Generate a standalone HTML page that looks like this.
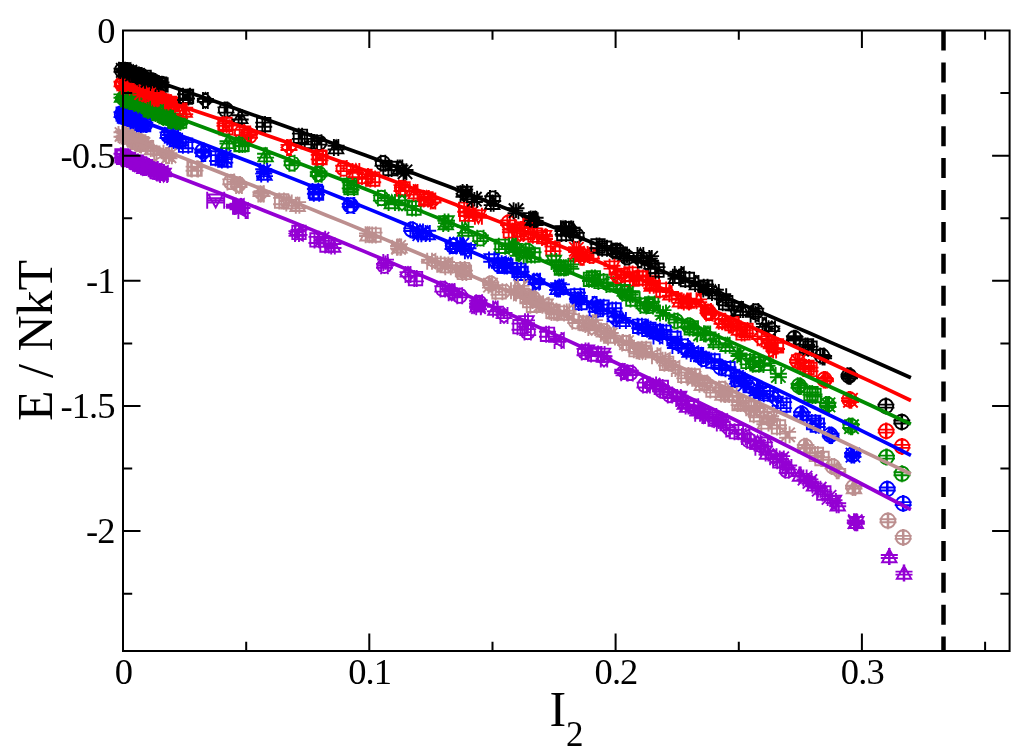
<!DOCTYPE html>
<html><head><meta charset="utf-8"><title>E / NkT vs I2</title>
<style>html,body{margin:0;padding:0;background:#fff}svg{display:block}</style></head>
<body>
<svg width="1024" height="755" viewBox="0 0 1024 755">
<rect width="1024" height="755" fill="#fff"/>
<path d="M128.6 159.4h2.7M128.6 150.9v17M131.4 150.9v17M130 157.8v3.2M121.5 157.8h17M121.5 161h17M122.8 159.4a7.2 7.2 0 1 0 14.4 0a7.2 7.2 0 1 0 -14.4 0M130.4 160.9h2.4M130.4 152.4v17M132.8 152.4v17M131.6 159.4v3M123.1 159.4h17M123.1 162.4h17M124.4 160.9a7.2 7.2 0 1 0 14.4 0a7.2 7.2 0 1 0 -14.4 0M131.1 161.8h4.1M131.1 153.3v17M135.3 153.3v17M133.2 160.5v2.5M124.7 160.5h17M124.7 163h17M126 161.8a7.2 7.2 0 1 0 14.4 0a7.2 7.2 0 1 0 -14.4 0M133 162.6h3.6M133 154.1v17M136.6 154.1v17M134.8 160.7v3.8M126.3 160.7h17M126.3 164.5h17M127.6 162.6a7.2 7.2 0 1 0 14.4 0a7.2 7.2 0 1 0 -14.4 0M142.9 166.6h6.1M142.9 158.1v17M149.1 158.1v17M146 164.3v4.5M137.5 164.3h17M137.5 168.9h17M138.8 166.6a7.2 7.2 0 1 0 14.4 0a7.2 7.2 0 1 0 -14.4 0M150.5 169.1h3.7M150.5 160.6v17M154.3 160.6v17M152.4 167.4v3.4M143.9 167.4h17M143.9 170.8h17M145.2 169.1a7.2 7.2 0 1 0 14.4 0a7.2 7.2 0 1 0 -14.4 0M381.1 265.8h6.8M381.1 257.3v17M387.9 257.3v17M384.5 263.9v3.8M376 263.9h17M376 267.7h17M377.3 265.8a7.2 7.2 0 1 0 14.4 0a7.2 7.2 0 1 0 -14.4 0M440.5 289h4.7M440.5 280.5v17M445.1 280.5v17M442.8 286.3v5.3M434.3 286.3h17M434.3 291.6h17M435.6 289a7.2 7.2 0 1 0 14.4 0a7.2 7.2 0 1 0 -14.4 0M457.2 295.7h5.1M457.2 287.2v17M462.2 287.2v17M459.7 294v3.4M451.2 294h17M451.2 297.4h17M452.5 295.7a7.2 7.2 0 1 0 14.4 0a7.2 7.2 0 1 0 -14.4 0M581.7 352.1h6.6M581.7 343.6v17M588.3 343.6v17M585 348.9v6.3M576.5 348.9h17M576.5 355.2h17M577.8 352.1a7.2 7.2 0 1 0 14.4 0a7.2 7.2 0 1 0 -14.4 0M627.8 372.9h5.1M627.8 364.4v17M632.8 364.4v17M630.3 370.8v4.2M621.8 370.8h17M621.8 375h17M623.1 372.9a7.2 7.2 0 1 0 14.4 0a7.2 7.2 0 1 0 -14.4 0M643 385h4M643 376.5v17M647 376.5v17M645 382.6v4.9M636.5 382.6h17M636.5 387.5h17M637.8 385a7.2 7.2 0 1 0 14.4 0a7.2 7.2 0 1 0 -14.4 0M660.2 390.4h3.7M660.2 381.9v17M663.8 381.9v17M662 389.2v2.6M653.5 389.2h17M653.5 391.7h17M654.8 390.4a7.2 7.2 0 1 0 14.4 0a7.2 7.2 0 1 0 -14.4 0M667.8 395h4.4M667.8 386.5v17M672.2 386.5v17M670 392v6M661.5 392h17M661.5 398h17M662.8 395a7.2 7.2 0 1 0 14.4 0a7.2 7.2 0 1 0 -14.4 0M709.7 416.6h6.5M709.7 408.1v17M716.3 408.1v17M713 414.5v4.2M704.5 414.5h17M704.5 418.7h17M705.8 416.6a7.2 7.2 0 1 0 14.4 0a7.2 7.2 0 1 0 -14.4 0M747.2 440.3h3.6M747.2 431.8v17M750.8 431.8v17M749 439.1v2.5M740.5 439.1h17M740.5 441.5h17M741.8 440.3a7.2 7.2 0 1 0 14.4 0a7.2 7.2 0 1 0 -14.4 0M761.5 444.4h6.3M761.5 435.9v17M767.8 435.9v17M764.6 442.4v4.1M756.1 442.4h17M756.1 446.5h17M757.4 444.4a7.2 7.2 0 1 0 14.4 0a7.2 7.2 0 1 0 -14.4 0M476.2 302.8h5.9M476.2 294.3v17M482.1 294.3v17M479.2 300.3v5M470.7 300.3h17M470.7 305.3h17M472 302.8a7.2 7.2 0 1 0 14.4 0a7.2 7.2 0 1 0 -14.4 0M524.5 332.1h6.4M524.5 323.6v17M530.9 323.6v17M527.7 329.1v6M519.2 329.1h17M519.2 335.1h17M520.5 332.1a7.2 7.2 0 1 0 14.4 0a7.2 7.2 0 1 0 -14.4 0M785.2 470.4h3.7M785.2 461.9v17M788.9 461.9v17M787.1 467.8v5.1M778.6 467.8h17M778.6 472.9h17M779.9 470.4a7.2 7.2 0 1 0 14.4 0a7.2 7.2 0 1 0 -14.4 0" fill="none" stroke="#9400d3" stroke-width="1.9"/>
<path d="M128.7 137.8h3.4M128.7 129.3v17M132.1 129.3v17M130.4 134.8v6M121.9 134.8h17M121.9 140.9h17M123.2 137.8a7.2 7.2 0 1 0 14.4 0a7.2 7.2 0 1 0 -14.4 0M131.5 140.1h3.3M131.5 131.6v17M134.9 131.6v17M133.2 138.7v2.8M124.7 138.7h17M124.7 141.5h17M126 140.1a7.2 7.2 0 1 0 14.4 0a7.2 7.2 0 1 0 -14.4 0M227.4 181.9h6.8M227.4 173.4v17M234.2 173.4v17M230.8 179.4v5M222.3 179.4h17M222.3 184.3h17M223.6 181.9a7.2 7.2 0 1 0 14.4 0a7.2 7.2 0 1 0 -14.4 0M236.5 184.4h3.6M236.5 175.9v17M240.1 175.9v17M238.3 182v4.9M229.8 182h17M229.8 186.9h17M231.1 184.4a7.2 7.2 0 1 0 14.4 0a7.2 7.2 0 1 0 -14.4 0M489.4 283.7h2.6M489.4 275.2v17M492 275.2v17M490.7 282.4v2.6M482.2 282.4h17M482.2 285h17M483.5 283.7a7.2 7.2 0 1 0 14.4 0a7.2 7.2 0 1 0 -14.4 0M531.1 298.3h3.7M531.1 289.8v17M534.9 289.8v17M533 296.4v3.8M524.5 296.4h17M524.5 300.2h17M525.8 298.3a7.2 7.2 0 1 0 14.4 0a7.2 7.2 0 1 0 -14.4 0M572.3 321.3h6.8M572.3 312.8v17M579.1 312.8v17M575.7 319.6v3.4M567.2 319.6h17M567.2 323h17M568.5 321.3a7.2 7.2 0 1 0 14.4 0a7.2 7.2 0 1 0 -14.4 0M601 331.1h6M601 322.6v17M607 322.6v17M604 328.1v6.1M595.5 328.1h17M595.5 334.2h17M596.8 331.1a7.2 7.2 0 1 0 14.4 0a7.2 7.2 0 1 0 -14.4 0M804.1 446.3h2.3M804.1 437.8v17M806.5 437.8v17M805.3 445v2.6M796.8 445h17M796.8 447.6h17M798.1 446.3a7.2 7.2 0 1 0 14.4 0a7.2 7.2 0 1 0 -14.4 0M831.6 466.6h2.8M831.6 458.1v17M834.4 458.1v17M833 464.8v3.6M824.5 464.8h17M824.5 468.4h17M825.8 466.6a7.2 7.2 0 1 0 14.4 0a7.2 7.2 0 1 0 -14.4 0M852.7 487h1.6M852.7 478.5v17M854.3 478.5v17M853.5 485.6v2.7M845 485.6h17M845 488.4h17M846.3 487a7.2 7.2 0 1 0 14.4 0a7.2 7.2 0 1 0 -14.4 0M887.7 520.7h0.6M887.7 512.2v17M888.3 512.2v17M888 519.2v3M879.5 519.2h17M879.5 522.2h17M880.8 520.7a7.2 7.2 0 1 0 14.4 0a7.2 7.2 0 1 0 -14.4 0M902.9 537.4h0.6M902.9 528.9v17M903.5 528.9v17M903.2 535.9v3M894.7 535.9h17M894.7 538.9h17M896 537.4a7.2 7.2 0 1 0 14.4 0a7.2 7.2 0 1 0 -14.4 0M622.1 343h6.8M622.1 334.5v17M629 334.5v17M625.6 341.1v4M617.1 341.1h17M617.1 345h17M618.4 343a7.2 7.2 0 1 0 14.4 0a7.2 7.2 0 1 0 -14.4 0M702.2 383h5.1M702.2 374.5v17M707.3 374.5v17M704.8 380.3v5.4M696.3 380.3h17M696.3 385.7h17M697.6 383a7.2 7.2 0 1 0 14.4 0a7.2 7.2 0 1 0 -14.4 0M718.9 389h6.4M718.9 380.5v17M725.3 380.5v17M722.1 387.5v2.9M713.6 387.5h17M713.6 390.4h17M714.9 389a7.2 7.2 0 1 0 14.4 0a7.2 7.2 0 1 0 -14.4 0M748.7 408.5h5.4M748.7 400v17M754 400v17M751.4 406.3v4.4M742.9 406.3h17M742.9 410.7h17M744.2 408.5a7.2 7.2 0 1 0 14.4 0a7.2 7.2 0 1 0 -14.4 0" fill="none" stroke="#bc8f8f" stroke-width="1.9"/>
<path d="M118.4 114.6h7.2M118.4 106.1v17M125.6 106.1v17M122 112.2v4.9M113.5 112.2h17M113.5 117.1h17M114.8 114.6a7.2 7.2 0 1 0 14.4 0a7.2 7.2 0 1 0 -14.4 0M122.4 116.6h6.3M122.4 108.1v17M128.8 108.1v17M125.6 114.8v3.4M117.1 114.8h17M117.1 118.3h17M118.4 116.6a7.2 7.2 0 1 0 14.4 0a7.2 7.2 0 1 0 -14.4 0M126.7 117h2.6M126.7 108.5v17M129.3 108.5v17M128 115.5v3M119.5 115.5h17M119.5 118.5h17M120.8 117a7.2 7.2 0 1 0 14.4 0a7.2 7.2 0 1 0 -14.4 0M129.5 118.7h4.1M129.5 110.2v17M133.7 110.2v17M131.6 117.3v2.8M123.1 117.3h17M123.1 120.1h17M124.4 118.7a7.2 7.2 0 1 0 14.4 0a7.2 7.2 0 1 0 -14.4 0M133.8 121h2.9M133.8 112.5v17M136.6 112.5v17M135.2 118.5v5M126.7 118.5h17M126.7 123.5h17M128 121a7.2 7.2 0 1 0 14.4 0a7.2 7.2 0 1 0 -14.4 0M142.9 124.4h3.9M142.9 115.9v17M146.7 115.9v17M144.8 122.6v3.6M136.3 122.6h17M136.3 126.2h17M137.6 124.4a7.2 7.2 0 1 0 14.4 0a7.2 7.2 0 1 0 -14.4 0M164.7 135.2h6.7M164.7 126.7v17M171.3 126.7v17M168 132.4v5.5M159.5 132.4h17M159.5 138h17M160.8 135.2a7.2 7.2 0 1 0 14.4 0a7.2 7.2 0 1 0 -14.4 0M172.6 139.5h4M172.6 131v17M176.6 131v17M174.6 136.8v5.4M166.1 136.8h17M166.1 142.2h17M167.4 139.5a7.2 7.2 0 1 0 14.4 0a7.2 7.2 0 1 0 -14.4 0M201.4 151.1h2.5M201.4 142.6v17M203.8 142.6v17M202.6 149.4v3.4M194.1 149.4h17M194.1 152.8h17M195.4 151.1a7.2 7.2 0 1 0 14.4 0a7.2 7.2 0 1 0 -14.4 0M346.8 205.4h6.8M346.8 196.9v17M353.6 196.9v17M350.2 203.9v3M341.7 203.9h17M341.7 206.9h17M343 205.4a7.2 7.2 0 1 0 14.4 0a7.2 7.2 0 1 0 -14.4 0M347.6 205.4h6.9M347.6 196.9v17M354.4 196.9v17M351 203.6v3.8M342.5 203.6h17M342.5 207.3h17M343.8 205.4a7.2 7.2 0 1 0 14.4 0a7.2 7.2 0 1 0 -14.4 0M410.4 229.7h2.5M410.4 221.2v17M413 221.2v17M411.7 228.4v2.6M403.2 228.4h17M403.2 231h17M404.5 229.7a7.2 7.2 0 1 0 14.4 0a7.2 7.2 0 1 0 -14.4 0M449.7 246h6.6M449.7 237.5v17M456.3 237.5v17M453 242.9v6.1M444.5 242.9h17M444.5 249h17M445.8 246a7.2 7.2 0 1 0 14.4 0a7.2 7.2 0 1 0 -14.4 0M681.6 346.4h6.4M681.6 337.9v17M688 337.9v17M684.8 343.9v5M676.3 343.9h17M676.3 348.9h17M677.6 346.4a7.2 7.2 0 1 0 14.4 0a7.2 7.2 0 1 0 -14.4 0M701.4 358.9h4.6M701.4 350.4v17M706 350.4v17M703.7 356v5.9M695.2 356h17M695.2 361.9h17M696.5 358.9a7.2 7.2 0 1 0 14.4 0a7.2 7.2 0 1 0 -14.4 0M719 367.3h3.1M719 358.8v17M722.2 358.8v17M720.6 365.6v3.4M712.1 365.6h17M712.1 369h17M713.4 367.3a7.2 7.2 0 1 0 14.4 0a7.2 7.2 0 1 0 -14.4 0M800.4 413.8h2.3M800.4 405.3v17M802.6 405.3v17M801.5 412.1v3.4M793 412.1h17M793 415.5h17M794.3 413.8a7.2 7.2 0 1 0 14.4 0a7.2 7.2 0 1 0 -14.4 0M829.1 435h2.4M829.1 426.5v17M831.5 426.5v17M830.3 433.6v2.8M821.8 433.6h17M821.8 436.4h17M823.1 435a7.2 7.2 0 1 0 14.4 0a7.2 7.2 0 1 0 -14.4 0M851 454.7h3.1M851 446.2v17M854.2 446.2v17M852.6 453v3.5M844.1 453h17M844.1 456.5h17M845.4 454.7a7.2 7.2 0 1 0 14.4 0a7.2 7.2 0 1 0 -14.4 0M887 489h0.6M887 480.5v17M887.6 480.5v17M887.3 487.5v3M878.8 487.5h17M878.8 490.5h17M880.1 489a7.2 7.2 0 1 0 14.4 0a7.2 7.2 0 1 0 -14.4 0M902.9 503.6h0.6M902.9 495.1v17M903.5 495.1v17M903.2 502.1v3M894.7 502.1h17M894.7 505.1h17M896 503.6a7.2 7.2 0 1 0 14.4 0a7.2 7.2 0 1 0 -14.4 0M497.4 265.5h5.2M497.4 257v17M502.6 257v17M500 263.2v4.6M491.5 263.2h17M491.5 267.7h17M492.8 265.5a7.2 7.2 0 1 0 14.4 0a7.2 7.2 0 1 0 -14.4 0" fill="none" stroke="#0000ff" stroke-width="1.9"/>
<path d="M121.2 98.3h4.8M121.2 89.8v17M126 89.8v17M123.6 96.9v2.6M115.1 96.9h17M115.1 99.6h17M116.4 98.3a7.2 7.2 0 1 0 14.4 0a7.2 7.2 0 1 0 -14.4 0M128.9 100.7h5.3M128.9 92.2v17M134.3 92.2v17M131.6 98.2v5.1M123.1 98.2h17M123.1 103.3h17M124.4 100.7a7.2 7.2 0 1 0 14.4 0a7.2 7.2 0 1 0 -14.4 0M162.1 116.1h3M162.1 107.6v17M165.1 107.6v17M163.6 113.3v5.6M155.1 113.3h17M155.1 118.9h17M156.4 116.1a7.2 7.2 0 1 0 14.4 0a7.2 7.2 0 1 0 -14.4 0M168.8 118h2.5M168.8 109.5v17M171.2 109.5v17M170 116.8v2.4M161.5 116.8h17M161.5 119.2h17M162.8 118a7.2 7.2 0 1 0 14.4 0a7.2 7.2 0 1 0 -14.4 0M172 120.7h2.5M172 112.2v17M174.4 112.2v17M173.2 118v5.3M164.7 118h17M164.7 123.3h17M166 120.7a7.2 7.2 0 1 0 14.4 0a7.2 7.2 0 1 0 -14.4 0M175.3 122.1h5.4M175.3 113.6v17M180.7 113.6v17M178 119.5v5.2M169.5 119.5h17M169.5 124.7h17M170.8 122.1a7.2 7.2 0 1 0 14.4 0a7.2 7.2 0 1 0 -14.4 0M289.4 163.3h5.2M289.4 154.8v17M294.6 154.8v17M292 161.2v4.2M283.5 161.2h17M283.5 165.3h17M284.8 163.3a7.2 7.2 0 1 0 14.4 0a7.2 7.2 0 1 0 -14.4 0M316.3 174h5.5M316.3 165.5v17M321.7 165.5v17M319 171.5v4.9M310.5 171.5h17M310.5 176.4h17M311.8 174a7.2 7.2 0 1 0 14.4 0a7.2 7.2 0 1 0 -14.4 0M377.9 198h7.1M377.9 189.5v17M384.9 189.5v17M381.4 195.4v5.2M372.9 195.4h17M372.9 200.6h17M374.2 198a7.2 7.2 0 1 0 14.4 0a7.2 7.2 0 1 0 -14.4 0M477.2 238.3h6.4M477.2 229.8v17M483.6 229.8v17M480.4 235.5v5.6M471.9 235.5h17M471.9 241.1h17M473.2 238.3a7.2 7.2 0 1 0 14.4 0a7.2 7.2 0 1 0 -14.4 0M606.4 284.5h7.2M606.4 276v17M613.6 276v17M610 282.5v3.9M601.5 282.5h17M601.5 286.4h17M602.8 284.5a7.2 7.2 0 1 0 14.4 0a7.2 7.2 0 1 0 -14.4 0M622.3 293.2h5.4M622.3 284.7v17M627.7 284.7v17M625 290.4v5.5M616.5 290.4h17M616.5 295.9h17M617.8 293.2a7.2 7.2 0 1 0 14.4 0a7.2 7.2 0 1 0 -14.4 0M640.4 305.5h7.2M640.4 297v17M647.6 297v17M644 302.6v5.9M635.5 302.6h17M635.5 308.4h17M636.8 305.5a7.2 7.2 0 1 0 14.4 0a7.2 7.2 0 1 0 -14.4 0M674.3 321.1h3.4M674.3 312.6v17M677.7 312.6v17M676 319.5v3.1M667.5 319.5h17M667.5 322.6h17M668.8 321.1a7.2 7.2 0 1 0 14.4 0a7.2 7.2 0 1 0 -14.4 0M687.7 325.7h2.6M687.7 317.2v17M690.3 317.2v17M689 323.3v4.6M680.5 323.3h17M680.5 328h17M681.8 325.7a7.2 7.2 0 1 0 14.4 0a7.2 7.2 0 1 0 -14.4 0M752.7 364.3h6.2M752.7 355.8v17M758.9 355.8v17M755.8 361.7v5.2M747.3 361.7h17M747.3 366.9h17M748.6 364.3a7.2 7.2 0 1 0 14.4 0a7.2 7.2 0 1 0 -14.4 0M797.6 385.8h2.8M797.6 377.3v17M800.4 377.3v17M799 383.9v3.8M790.5 383.9h17M790.5 387.7h17M791.8 385.8a7.2 7.2 0 1 0 14.4 0a7.2 7.2 0 1 0 -14.4 0M825.9 404.5h3.2M825.9 396v17M829.1 396v17M827.5 403.2v2.5M819 403.2h17M819 405.7h17M820.3 404.5a7.2 7.2 0 1 0 14.4 0a7.2 7.2 0 1 0 -14.4 0M848.9 426h3.6M848.9 417.5v17M852.5 417.5v17M850.7 423.9v4.1M842.2 423.9h17M842.2 428h17M843.5 426a7.2 7.2 0 1 0 14.4 0a7.2 7.2 0 1 0 -14.4 0M886.2 457.1h0.6M886.2 448.6v17M886.8 448.6v17M886.5 455.6v3M878 455.6h17M878 458.6h17M879.3 457.1a7.2 7.2 0 1 0 14.4 0a7.2 7.2 0 1 0 -14.4 0M901.7 473.8h0.6M901.7 465.3v17M902.3 465.3v17M902 472.3v3M893.5 472.3h17M893.5 475.3h17M894.8 473.8a7.2 7.2 0 1 0 14.4 0a7.2 7.2 0 1 0 -14.4 0M525.7 250.9h3.5M525.7 242.4v17M529.2 242.4v17M527.5 249.6v2.6M519 249.6h17M519 252.2h17M520.3 250.9a7.2 7.2 0 1 0 14.4 0a7.2 7.2 0 1 0 -14.4 0M646.3 305.9h6.7M646.3 297.4v17M653 297.4v17M649.6 303.3v5.1M641.1 303.3h17M641.1 308.4h17M642.4 305.9a7.2 7.2 0 1 0 14.4 0a7.2 7.2 0 1 0 -14.4 0" fill="none" stroke="#008b00" stroke-width="1.9"/>
<path d="M119.9 84.1h4.2M119.9 75.6v17M124.1 75.6v17M122 81.7v4.8M113.5 81.7h17M113.5 86.4h17M114.8 84.1a7.2 7.2 0 1 0 14.4 0a7.2 7.2 0 1 0 -14.4 0M121 83.8h4.9M121 75.3v17M125.8 75.3v17M123.4 81.7v4.2M114.9 81.7h17M114.9 85.9h17M116.2 83.8a7.2 7.2 0 1 0 14.4 0a7.2 7.2 0 1 0 -14.4 0M136.2 91.4h5.2M136.2 82.9v17M141.4 82.9v17M138.8 88.5v5.8M130.3 88.5h17M130.3 94.3h17M131.6 91.4a7.2 7.2 0 1 0 14.4 0a7.2 7.2 0 1 0 -14.4 0M137.6 92h5.1M137.6 83.5v17M142.8 83.5v17M140.2 89.3v5.4M131.7 89.3h17M131.7 94.7h17M133 92a7.2 7.2 0 1 0 14.4 0a7.2 7.2 0 1 0 -14.4 0M162.9 102.5h5M162.9 94v17M167.9 94v17M165.4 99.6v5.8M156.9 99.6h17M156.9 105.4h17M158.2 102.5a7.2 7.2 0 1 0 14.4 0a7.2 7.2 0 1 0 -14.4 0M239.7 132.4h4.5M239.7 123.9v17M244.3 123.9v17M242 129.7v5.3M233.5 129.7h17M233.5 135.1h17M234.8 132.4a7.2 7.2 0 1 0 14.4 0a7.2 7.2 0 1 0 -14.4 0M247.9 136h3.1M247.9 127.5v17M251.1 127.5v17M249.5 134.1v3.7M241 134.1h17M241 137.9h17M242.3 136a7.2 7.2 0 1 0 14.4 0a7.2 7.2 0 1 0 -14.4 0M340.6 168.5h6.2M340.6 160v17M346.8 160v17M343.7 165.8v5.2M335.2 165.8h17M335.2 171.1h17M336.5 168.5a7.2 7.2 0 1 0 14.4 0a7.2 7.2 0 1 0 -14.4 0M398.9 188h6.2M398.9 179.5v17M405.1 179.5v17M402 185.1v5.9M393.5 185.1h17M393.5 191h17M394.8 188a7.2 7.2 0 1 0 14.4 0a7.2 7.2 0 1 0 -14.4 0M507.3 222.7h2.6M507.3 214.2v17M509.9 214.2v17M508.6 220.4v4.7M500.1 220.4h17M500.1 225h17M501.4 222.7a7.2 7.2 0 1 0 14.4 0a7.2 7.2 0 1 0 -14.4 0M589.5 255.5h3.9M589.5 247v17M593.5 247v17M591.5 252.3v6.3M583 252.3h17M583 258.6h17M584.3 255.5a7.2 7.2 0 1 0 14.4 0a7.2 7.2 0 1 0 -14.4 0M705 311.6h6M705 303.1v17M711 303.1v17M708 310.2v2.8M699.5 310.2h17M699.5 313.1h17M700.8 311.6a7.2 7.2 0 1 0 14.4 0a7.2 7.2 0 1 0 -14.4 0M795.7 361h3.6M795.7 352.5v17M799.3 352.5v17M797.5 359.6v2.8M789 359.6h17M789 362.4h17M790.3 361a7.2 7.2 0 1 0 14.4 0a7.2 7.2 0 1 0 -14.4 0M823.7 379.4h1.7M823.7 370.9v17M825.3 370.9v17M824.5 378v2.7M816 378h17M816 380.7h17M817.3 379.4a7.2 7.2 0 1 0 14.4 0a7.2 7.2 0 1 0 -14.4 0M848.7 399.5h1.5M848.7 391v17M850.3 391v17M849.5 398.1v2.9M841 398.1h17M841 400.9h17M842.3 399.5a7.2 7.2 0 1 0 14.4 0a7.2 7.2 0 1 0 -14.4 0M885.9 431.1h0.6M885.9 422.6v17M886.5 422.6v17M886.2 429.6v3M877.7 429.6h17M877.7 432.6h17M879 431.1a7.2 7.2 0 1 0 14.4 0a7.2 7.2 0 1 0 -14.4 0M901.7 446.4h0.6M901.7 437.9v17M902.3 437.9v17M902 444.9v3M893.5 444.9h17M893.5 447.9h17M894.8 446.4a7.2 7.2 0 1 0 14.4 0a7.2 7.2 0 1 0 -14.4 0M514.9 229.5h5.8M514.9 221v17M520.7 221v17M517.8 228.1v2.8M509.3 228.1h17M509.3 230.9h17M510.6 229.5a7.2 7.2 0 1 0 14.4 0a7.2 7.2 0 1 0 -14.4 0M615.6 276.2h5.8M615.6 267.7v17M621.4 267.7v17M618.5 274.5v3.4M610 274.5h17M610 278h17M611.3 276.2a7.2 7.2 0 1 0 14.4 0a7.2 7.2 0 1 0 -14.4 0M706.1 313.1h6.5M706.1 304.6v17M712.6 304.6v17M709.3 311.3v3.7M700.8 311.3h17M700.8 314.9h17M702.1 313.1a7.2 7.2 0 1 0 14.4 0a7.2 7.2 0 1 0 -14.4 0" fill="none" stroke="#ff0000" stroke-width="1.9"/>
<path d="M118.9 70.2h6.2M118.9 61.7v17M125.1 61.7v17M122 68.6v3.2M113.5 68.6h17M113.5 71.8h17M114.8 70.2a7.2 7.2 0 1 0 14.4 0a7.2 7.2 0 1 0 -14.4 0M122.4 70.7h6.9M122.4 62.2v17M129.4 62.2v17M125.9 68.7v4.1M117.4 68.7h17M117.4 72.8h17M118.7 70.7a7.2 7.2 0 1 0 14.4 0a7.2 7.2 0 1 0 -14.4 0M128.2 73.7h5.8M128.2 65.2v17M134 65.2v17M131.1 70.9v5.6M122.6 70.9h17M122.6 76.5h17M123.9 73.7a7.2 7.2 0 1 0 14.4 0a7.2 7.2 0 1 0 -14.4 0M140.9 78.2h3.8M140.9 69.7v17M144.7 69.7v17M142.8 76.3v3.8M134.3 76.3h17M134.3 80.2h17M135.6 78.2a7.2 7.2 0 1 0 14.4 0a7.2 7.2 0 1 0 -14.4 0M148.5 82.3h6.8M148.5 73.8v17M155.3 73.8v17M151.9 79.8v5M143.4 79.8h17M143.4 84.8h17M144.7 82.3a7.2 7.2 0 1 0 14.4 0a7.2 7.2 0 1 0 -14.4 0M153.2 81.9h2.5M153.2 73.4v17M155.8 73.4v17M154.5 79.1v5.5M146 79.1h17M146 84.6h17M147.3 81.9a7.2 7.2 0 1 0 14.4 0a7.2 7.2 0 1 0 -14.4 0M224.6 110h2.8M224.6 101.5v17M227.4 101.5v17M226 107.4v5.2M217.5 107.4h17M217.5 112.6h17M218.8 110a7.2 7.2 0 1 0 14.4 0a7.2 7.2 0 1 0 -14.4 0M317 142.8h4.4M317 134.3v17M321.4 134.3v17M319.2 141v3.5M310.7 141h17M310.7 144.6h17M312 142.8a7.2 7.2 0 1 0 14.4 0a7.2 7.2 0 1 0 -14.4 0M380.7 163.2h4.5M380.7 154.7v17M385.3 154.7v17M383 160.7v5.1M374.5 160.7h17M374.5 165.8h17M375.8 163.2a7.2 7.2 0 1 0 14.4 0a7.2 7.2 0 1 0 -14.4 0M489.9 198.6h5.6M489.9 190.1v17M495.5 190.1v17M492.7 196.2v4.8M484.2 196.2h17M484.2 201h17M485.5 198.6a7.2 7.2 0 1 0 14.4 0a7.2 7.2 0 1 0 -14.4 0M573.1 235.2h6.7M573.1 226.7v17M579.7 226.7v17M576.4 232.9v4.6M567.9 232.9h17M567.9 237.5h17M569.2 235.2a7.2 7.2 0 1 0 14.4 0a7.2 7.2 0 1 0 -14.4 0M615.4 251h4.9M615.4 242.5v17M620.2 242.5v17M617.8 248.7v4.8M609.3 248.7h17M609.3 253.4h17M610.6 251a7.2 7.2 0 1 0 14.4 0a7.2 7.2 0 1 0 -14.4 0M624.8 257.3h4.4M624.8 248.8v17M629.2 248.8v17M627 256v2.7M618.5 256h17M618.5 258.7h17M619.8 257.3a7.2 7.2 0 1 0 14.4 0a7.2 7.2 0 1 0 -14.4 0M648.1 266.2h7.2M648.1 257.7v17M655.3 257.7v17M651.7 263.6v5.3M643.2 263.6h17M643.2 268.9h17M644.5 266.2a7.2 7.2 0 1 0 14.4 0a7.2 7.2 0 1 0 -14.4 0M753.3 311.4h5M753.3 302.9v17M758.3 302.9v17M755.8 308.6v5.6M747.3 308.6h17M747.3 314.2h17M748.6 311.4a7.2 7.2 0 1 0 14.4 0a7.2 7.2 0 1 0 -14.4 0M793.7 338.2h1.3M793.7 329.7v17M795.1 329.7v17M794.4 336.3v3.9M785.9 336.3h17M785.9 340.2h17M787.2 338.2a7.2 7.2 0 1 0 14.4 0a7.2 7.2 0 1 0 -14.4 0M820.1 356h3.8M820.1 347.5v17M823.9 347.5v17M822 355v2M813.5 355h17M813.5 357h17M814.8 356a7.2 7.2 0 1 0 14.4 0a7.2 7.2 0 1 0 -14.4 0M847.3 375.8h3.4M847.3 367.3v17M850.7 367.3v17M849 374.7v2.1M840.5 374.7h17M840.5 376.8h17M841.8 375.8a7.2 7.2 0 1 0 14.4 0a7.2 7.2 0 1 0 -14.4 0M885.6 406.1h0.6M885.6 397.6v17M886.2 397.6v17M885.9 404.6v3M877.4 404.6h17M877.4 407.6h17M878.7 406.1a7.2 7.2 0 1 0 14.4 0a7.2 7.2 0 1 0 -14.4 0M901.5 422h0.6M901.5 413.5v17M902.1 413.5v17M901.8 420.5v3M893.3 420.5h17M893.3 423.5h17M894.6 422a7.2 7.2 0 1 0 14.4 0a7.2 7.2 0 1 0 -14.4 0M566.1 229.1h5.2M566.1 220.6v17M571.3 220.6v17M568.7 227.2v3.7M560.2 227.2h17M560.2 230.9h17M561.5 229.1a7.2 7.2 0 1 0 14.4 0a7.2 7.2 0 1 0 -14.4 0M612.7 250.9h4.6M612.7 242.4v17M617.3 242.4v17M615 247.7v6.3M606.5 247.7h17M606.5 254h17M607.8 250.9a7.2 7.2 0 1 0 14.4 0a7.2 7.2 0 1 0 -14.4 0" fill="none" stroke="#000000" stroke-width="1.9"/>
<path d="M120.8 155.8h2.4M120.8 147.3v17M123.2 147.3v17M122 153.8v4.1M113.5 153.8h17M113.5 157.9h17M115.3 149.1h13.4v13.4h-13.4zM121 157.3h5.1M121 148.8v17M126.2 148.8v17M123.6 154.2v6.2M115.1 154.2h17M115.1 160.4h17M116.9 150.6h13.4v13.4h-13.4zM127 159.5h2.9M127 151v17M129.8 151v17M128.4 157v4.9M119.9 157h17M119.9 161.9h17M121.7 152.8h13.4v13.4h-13.4zM134.9 162.1h3M134.9 153.6v17M137.9 153.6v17M136.4 159.2v5.8M127.9 159.2h17M127.9 165h17M129.7 155.4h13.4v13.4h-13.4zM137.8 164h3.7M137.8 155.5v17M141.4 155.5v17M139.6 161.1v5.7M131.1 161.1h17M131.1 166.9h17M132.9 157.3h13.4v13.4h-13.4zM144.5 167.5h6.3M144.5 159v17M150.7 159v17M147.6 164.4v6.3M139.1 164.4h17M139.1 170.7h17M140.9 160.8h13.4v13.4h-13.4zM154.5 171.6h5.4M154.5 163.1v17M159.9 163.1v17M157.2 168.6v6M148.7 168.6h17M148.7 174.6h17M150.5 164.9h13.4v13.4h-13.4zM295.5 232.4h7.1M295.5 223.9v17M302.5 223.9v17M299 229.9v5M290.5 229.9h17M290.5 234.9h17M292.3 225.7h13.4v13.4h-13.4zM314.5 239.9h4.9M314.5 231.4v17M319.5 231.4v17M317 236.9v6.1M308.5 236.9h17M308.5 243h17M310.3 233.2h13.4v13.4h-13.4zM325.2 245h3.6M325.2 236.5v17M328.8 236.5v17M327 243.2v3.6M318.5 243.2h17M318.5 246.8h17M320.3 238.3h13.4v13.4h-13.4zM414.3 278.6h2.4M414.3 270.1v17M416.7 270.1v17M415.5 275.8v5.6M407 275.8h17M407 281.4h17M408.8 271.9h13.4v13.4h-13.4zM517.5 326.7h5.1M517.5 318.2v17M522.5 318.2v17M520 323.6v6.2M511.5 323.6h17M511.5 329.8h17M513.3 320h13.4v13.4h-13.4zM546.1 334.3h2.8M546.1 325.8v17M548.9 325.8v17M547.5 331.8v5.1M539 331.8h17M539 336.8h17M540.8 327.6h13.4v13.4h-13.4zM591.1 354h7M591.1 345.5v17M598.1 345.5v17M594.6 352v4M586.1 352h17M586.1 356h17M587.9 347.3h13.4v13.4h-13.4zM734.5 431.7h3.9M734.5 423.2v17M738.4 423.2v17M736.4 429.9v3.6M727.9 429.9h17M727.9 433.5h17M729.7 425h13.4v13.4h-13.4zM822.6 493h2.3M822.6 484.5v17M825 484.5v17M823.8 491.7v2.6M815.3 491.7h17M815.3 494.3h17M817.1 486.3h13.4v13.4h-13.4zM660 387.4h2.5M660 378.9v17M662.6 378.9v17M661.3 386v2.9M652.8 386h17M652.8 388.9h17M654.6 380.7h13.4v13.4h-13.4zM712.3 419.1h5.9M712.3 410.6v17M718.2 410.6v17M715.2 417.5v3.2M706.7 417.5h17M706.7 420.7h17M708.5 412.4h13.4v13.4h-13.4zM777.2 460.8h5.1M777.2 452.3v17M782.4 452.3v17M779.8 459.6v2.4M771.3 459.6h17M771.3 462h17M773.1 454.1h13.4v13.4h-13.4z" fill="none" stroke="#9400d3" stroke-width="1.9"/>
<path d="M133.2 140.1h2.8M133.2 131.6v17M136 131.6v17M134.6 138.5v3.4M126.1 138.5h17M126.1 141.8h17M127.9 133.4h13.4v13.4h-13.4zM134.9 142.3h4.9M134.9 133.8v17M139.9 133.8v17M137.4 140.3v3.9M128.9 140.3h17M128.9 144.2h17M130.7 135.6h13.4v13.4h-13.4zM135.3 142h7M135.3 133.5v17M142.3 133.5v17M138.8 140.6v2.9M130.3 140.6h17M130.3 143.5h17M132.1 135.3h13.4v13.4h-13.4zM139.4 143.6h4.3M139.4 135.1v17M143.8 135.1v17M141.6 141.5v4.2M133.1 141.5h17M133.1 145.7h17M134.9 136.9h13.4v13.4h-13.4zM191.1 168.7h6.1M191.1 160.2v17M197.1 160.2v17M194.1 166.6v4.2M185.6 166.6h17M185.6 170.8h17M187.4 162h13.4v13.4h-13.4zM191.9 169h6.2M191.9 160.5v17M198.1 160.5v17M195 167.3v3.3M186.5 167.3h17M186.5 170.6h17M188.3 162.3h13.4v13.4h-13.4zM279.3 201h4.6M279.3 192.5v17M283.9 192.5v17M281.6 197.9v6.2M273.1 197.9h17M273.1 204.2h17M274.9 194.3h13.4v13.4h-13.4zM372.2 235.1h3.6M372.2 226.6v17M375.8 226.6v17M374 232.6v5.1M365.5 232.6h17M365.5 237.7h17M367.3 228.4h13.4v13.4h-13.4zM460.3 269.6h4.4M460.3 261.1v17M464.7 261.1v17M462.5 267v5.1M454 267h17M454 272.1h17M455.8 262.9h13.4v13.4h-13.4zM495.6 291.8h6.7M495.6 283.3v17M502.4 283.3v17M499 288.9v5.9M490.5 288.9h17M490.5 294.8h17M492.3 285.1h13.4v13.4h-13.4zM525 296.5h4M525 288v17M529 288v17M527 294.9v3.1M518.5 294.9h17M518.5 298h17M520.3 289.8h13.4v13.4h-13.4zM549.6 311.3h6.8M549.6 302.8v17M556.4 302.8v17M553 309.7v3.2M544.5 309.7h17M544.5 312.9h17M546.3 304.6h13.4v13.4h-13.4zM557.3 313.1h6.7M557.3 304.6v17M564.1 304.6v17M560.7 311.8v2.5M552.2 311.8h17M552.2 314.3h17M554 306.4h13.4v13.4h-13.4zM583.1 323.2h3.7M583.1 314.7v17M586.9 314.7v17M585 320.1v6.2M576.5 320.1h17M576.5 326.3h17M578.3 316.5h13.4v13.4h-13.4zM633.8 349.7h4.5M633.8 341.2v17M638.2 341.2v17M636 347.5v4.4M627.5 347.5h17M627.5 351.9h17M629.3 343h13.4v13.4h-13.4zM681.2 375.4h7.1M681.2 366.9v17M688.4 366.9v17M684.8 372.5v5.9M676.3 372.5h17M676.3 378.4h17M678.1 368.7h13.4v13.4h-13.4zM710.3 390.1h5.4M710.3 381.6v17M715.7 381.6v17M713 387.5v5.1M704.5 387.5h17M704.5 392.6h17M706.3 383.4h13.4v13.4h-13.4zM727.3 393.9h5.1M727.3 385.4v17M732.4 385.4v17M729.9 392v3.9M721.4 392h17M721.4 395.8h17M723.2 387.2h13.4v13.4h-13.4zM737.3 403.6h3.6M737.3 395.1v17M740.8 395.1v17M739.1 402.1v3M730.6 402.1h17M730.6 405.1h17M732.4 396.9h13.4v13.4h-13.4zM777 426.9h3M777 418.4v17M780 418.4v17M778.5 425.3v3.2M770 425.3h17M770 428.5h17M771.8 420.2h13.4v13.4h-13.4zM815 454.4h2.9M815 445.9v17M817.8 445.9v17M816.4 453.2v2.5M807.9 453.2h17M807.9 455.7h17M809.7 447.7h13.4v13.4h-13.4zM821.2 458.5h1.6M821.2 450v17M822.8 450v17M822 457.2v2.6M813.5 457.2h17M813.5 459.8h17M815.3 451.8h13.4v13.4h-13.4zM462.5 272.4h3.8M462.5 263.9v17M466.3 263.9v17M464.4 270.6v3.6M455.9 270.6h17M455.9 274.2h17M457.7 265.7h13.4v13.4h-13.4zM526.7 300.6h5.9M526.7 292.1v17M532.6 292.1v17M529.7 299v3.2M521.2 299h17M521.2 302.2h17M523 293.9h13.4v13.4h-13.4zM530.3 305.3h6.3M530.3 296.8v17M536.7 296.8v17M533.5 303.3v4M525 303.3h17M525 307.4h17M526.8 298.6h13.4v13.4h-13.4zM641.8 349.2h4.3M641.8 340.7v17M646.2 340.7v17M644 346.3v5.8M635.5 346.3h17M635.5 352.1h17M637.3 342.5h13.4v13.4h-13.4zM664.4 363.3h4.3M664.4 354.8v17M668.7 354.8v17M666.6 361v4.5M658.1 361h17M658.1 365.5h17M659.9 356.6h13.4v13.4h-13.4zM691.7 376h3M691.7 367.5v17M694.7 367.5v17M693.2 374.3v3.4M684.7 374.3h17M684.7 377.7h17M686.5 369.3h13.4v13.4h-13.4zM753.7 414.7h6.1M753.7 406.2v17M759.8 406.2v17M756.7 411.9v5.5M748.2 411.9h17M748.2 417.4h17M750 408h13.4v13.4h-13.4z" fill="none" stroke="#bc8f8f" stroke-width="1.9"/>
<path d="M119.6 114.1h7.2M119.6 105.6v17M126.8 105.6v17M123.2 111.8v4.7M114.7 111.8h17M114.7 116.5h17M116.5 107.4h13.4v13.4h-13.4zM121.4 116.2h6.1M121.4 107.7v17M127.4 107.7v17M124.4 114.1v4.2M115.9 114.1h17M115.9 118.3h17M117.7 109.5h13.4v13.4h-13.4zM127.6 118.6h5.5M127.6 110.1v17M133.2 110.1v17M130.4 117.4v2.5M121.9 117.4h17M121.9 119.9h17M123.7 111.9h13.4v13.4h-13.4zM139.4 123h3.5M139.4 114.5v17M143 114.5v17M141.2 121.6v2.6M132.7 121.6h17M132.7 124.3h17M134.5 116.3h13.4v13.4h-13.4zM140.9 124.5h5.3M140.9 116v17M146.3 116v17M143.6 122.2v4.4M135.1 122.2h17M135.1 126.7h17M136.9 117.8h13.4v13.4h-13.4zM182.9 145.2h5.5M182.9 136.7v17M188.3 136.7v17M185.6 142.1v6.3M177.1 142.1h17M177.1 148.3h17M178.9 138.5h13.4v13.4h-13.4zM215.6 158h4M215.6 149.5v17M219.6 149.5v17M217.6 155.1v5.9M209.1 155.1h17M209.1 161h17M210.9 151.3h13.4v13.4h-13.4zM221.9 160.1h5.7M221.9 151.6v17M227.7 151.6v17M224.8 157.6v5.1M216.3 157.6h17M216.3 162.6h17M218.1 153.4h13.4v13.4h-13.4zM312.5 191.4h5.9M312.5 182.9v17M318.3 182.9v17M315.4 189v4.7M306.9 189h17M306.9 193.7h17M308.7 184.7h13.4v13.4h-13.4zM313.8 193.2h5.4M313.8 184.7v17M319.2 184.7v17M316.5 191.9v2.7M308 191.9h17M308 194.6h17M309.8 186.5h13.4v13.4h-13.4zM504.5 266h2.5M504.5 257.5v17M507.1 257.5v17M505.8 264.2v3.4M497.3 264.2h17M497.3 267.7h17M499.1 259.3h13.4v13.4h-13.4zM517 270.3h3.9M517 261.8v17M521 261.8v17M519 267.2v6.3M510.5 267.2h17M510.5 273.4h17M512.3 263.6h13.4v13.4h-13.4zM574.4 295.9h6.1M574.4 287.4v17M580.4 287.4v17M577.4 292.7v6.3M568.9 292.7h17M568.9 299h17M570.7 289.2h13.4v13.4h-13.4zM600.3 307.2h3.4M600.3 298.7v17M603.7 298.7v17M602 304.6v5.2M593.5 304.6h17M593.5 309.8h17M595.3 300.5h13.4v13.4h-13.4zM637.5 326.3h4.3M637.5 317.8v17M641.9 317.8v17M639.7 324.3v4M631.2 324.3h17M631.2 328.3h17M633 319.6h13.4v13.4h-13.4zM653.2 331.3h6.7M653.2 322.8v17M660 322.8v17M656.6 329.1v4.4M648.1 329.1h17M648.1 333.5h17M649.9 324.6h13.4v13.4h-13.4zM661.7 332.3h4.6M661.7 323.8v17M666.3 323.8v17M664 330v4.5M655.5 330h17M655.5 334.5h17M657.3 325.6h13.4v13.4h-13.4zM711.3 361h3.3M711.3 352.5v17M714.7 352.5v17M713 359.2v3.6M704.5 359.2h17M704.5 362.8h17M706.3 354.3h13.4v13.4h-13.4zM725.5 368.7h4.9M725.5 360.2v17M730.5 360.2v17M728 367.2v3M719.5 367.2h17M719.5 370.2h17M721.3 362h13.4v13.4h-13.4zM763.8 393.7h6.2M763.8 385.2v17M770 385.2v17M766.9 391.1v5.2M758.4 391.1h17M758.4 396.3h17M760.2 387h13.4v13.4h-13.4zM780.7 405.1h6M780.7 396.6v17M786.6 396.6v17M783.6 402.1v6M775.1 402.1h17M775.1 408.1h17M776.9 398.4h13.4v13.4h-13.4zM811.8 422.5h3.6M811.8 414v17M815.4 414v17M813.6 420.6v3.9M805.1 420.6h17M805.1 424.4h17M806.9 415.8h13.4v13.4h-13.4zM815.8 425.2h3M815.8 416.7v17M818.8 416.7v17M817.3 423.5v3.5M808.8 423.5h17M808.8 427h17M810.6 418.5h13.4v13.4h-13.4zM517.7 273.3h7M517.7 264.8v17M524.6 264.8v17M521.1 271.7v3.2M512.6 271.7h17M512.6 274.9h17M514.4 266.6h13.4v13.4h-13.4zM578.8 302.6h2.7M578.8 294.1v17M581.5 294.1v17M580.1 300.9v3.5M571.6 300.9h17M571.6 304.4h17M573.4 295.9h13.4v13.4h-13.4zM595.1 309.7h2.5M595.1 301.2v17M597.6 301.2v17M596.3 307.6v4.1M587.8 307.6h17M587.8 311.7h17M589.6 303h13.4v13.4h-13.4zM612.3 309.9h3.7M612.3 301.4v17M615.9 301.4v17M614.1 308.2v3.3M605.6 308.2h17M605.6 311.5h17M607.4 303.2h13.4v13.4h-13.4zM647.2 329.3h3.4M647.2 320.8v17M650.6 320.8v17M648.9 327.8v2.9M640.4 327.8h17M640.4 330.7h17M642.2 322.6h13.4v13.4h-13.4zM670.5 338.5h7M670.5 330v17M677.5 330v17M674 336.6v3.8M665.5 336.6h17M665.5 340.4h17M667.3 331.8h13.4v13.4h-13.4zM734.9 379.4h6.5M734.9 370.9v17M741.4 370.9v17M738.2 377.7v3.5M729.7 377.7h17M729.7 381.2h17M731.5 372.7h13.4v13.4h-13.4z" fill="none" stroke="#0000ff" stroke-width="1.9"/>
<path d="M126.5 100.7h7M126.5 92.2v17M133.5 92.2v17M130 99.4v2.7M121.5 99.4h17M121.5 102.1h17M123.3 94h13.4v13.4h-13.4zM140.4 105.8h4.8M140.4 97.3v17M145.2 97.3v17M142.8 102.6v6.3M134.3 102.6h17M134.3 108.9h17M136.1 99.1h13.4v13.4h-13.4zM142.4 106.3h3.9M142.4 97.8v17M146.4 97.8v17M144.4 104.5v3.6M135.9 104.5h17M135.9 108.1h17M137.7 99.6h13.4v13.4h-13.4zM148 109.3h2.4M148 100.8v17M150.4 100.8v17M149.2 107.7v3.2M140.7 107.7h17M140.7 110.8h17M142.5 102.6h13.4v13.4h-13.4zM155.6 113.4h6.3M155.6 104.9v17M162 104.9v17M158.8 110.6v5.5M150.3 110.6h17M150.3 116.2h17M152.1 106.7h13.4v13.4h-13.4zM158.2 113.5h4.4M158.2 105v17M162.6 105v17M160.4 111.7v3.7M151.9 111.7h17M151.9 115.4h17M153.7 106.8h13.4v13.4h-13.4zM171.8 121h5.9M171.8 112.5v17M177.8 112.5v17M174.8 119.4v3.1M166.3 119.4h17M166.3 122.6h17M168.1 114.3h13.4v13.4h-13.4zM176.1 121.1h7M176.1 112.6v17M183.1 112.6v17M179.6 118.5v5.3M171.1 118.5h17M171.1 123.8h17M172.9 114.4h13.4v13.4h-13.4zM239.6 144.5h2.8M239.6 136v17M242.4 136v17M241 142.7v3.6M232.5 142.7h17M232.5 146.3h17M234.3 137.8h13.4v13.4h-13.4zM239 144.3h5.9M239 135.8v17M245 135.8v17M242 142.8v3.1M233.5 142.8h17M233.5 145.8h17M235.3 137.6h13.4v13.4h-13.4zM347.1 185.3h6.2M347.1 176.8v17M353.3 176.8v17M350.2 182.3v6.2M341.7 182.3h17M341.7 188.4h17M343.5 178.6h13.4v13.4h-13.4zM347.9 187.5h6.2M347.9 179v17M354.1 179v17M351 185.2v4.7M342.5 185.2h17M342.5 189.9h17M344.3 180.8h13.4v13.4h-13.4zM412.1 208h3.9M412.1 199.5v17M415.9 199.5v17M414 206v4.1M405.5 206h17M405.5 210.1h17M407.3 201.3h13.4v13.4h-13.4zM498.8 246.3h6.5M498.8 237.8v17M505.2 237.8v17M502 243.5v5.6M493.5 243.5h17M493.5 249.1h17M495.3 239.6h13.4v13.4h-13.4zM531.2 255h3.6M531.2 246.5v17M534.8 246.5v17M533 252.3v5.4M524.5 252.3h17M524.5 257.7h17M526.3 248.3h13.4v13.4h-13.4zM558.8 268h5.2M558.8 259.5v17M564 259.5v17M561.4 265v6M552.9 265h17M552.9 271h17M554.7 261.3h13.4v13.4h-13.4zM591.8 277.9h3.3M591.8 269.4v17M595 269.4v17M593.4 275.3v5.2M584.9 275.3h17M584.9 280.5h17M586.7 271.2h13.4v13.4h-13.4zM598.4 281.4h5.1M598.4 272.9v17M603.6 272.9v17M601 279.4v4M592.5 279.4h17M592.5 283.4h17M594.3 274.7h13.4v13.4h-13.4zM630.5 299h4.9M630.5 290.5v17M635.3 290.5v17M632.9 297.8v2.5M624.4 297.8h17M624.4 300.3h17M626.2 292.3h13.4v13.4h-13.4zM648.6 303.9h6.1M648.6 295.4v17M654.8 295.4v17M651.7 301.8v4.1M643.2 301.8h17M643.2 305.9h17M645 297.2h13.4v13.4h-13.4zM746 361.4h4.1M746 352.9v17M750 352.9v17M748 358.4v6M739.5 358.4h17M739.5 364.4h17M741.3 354.7h13.4v13.4h-13.4zM809.8 393.6h2.4M809.8 385.1v17M812.2 385.1v17M811 392.4v2.4M802.5 392.4h17M802.5 394.8h17M804.3 386.9h13.4v13.4h-13.4zM812.5 395.5h3M812.5 387v17M815.5 387v17M814 394.5v2M805.5 394.5h17M805.5 396.6h17M807.3 388.8h13.4v13.4h-13.4zM588.9 279.3h3.1M588.9 270.8v17M592 270.8v17M590.5 277.5v3.5M582 277.5h17M582 281h17M583.8 272.6h13.4v13.4h-13.4zM689.5 327.9h3.6M689.5 319.4v17M693.2 319.4v17M691.3 326.3v3.2M682.8 326.3h17M682.8 329.5h17M684.6 321.2h13.4v13.4h-13.4zM753.4 363.8h7.2M753.4 355.3v17M760.5 355.3v17M757 360.6v6.4M748.5 360.6h17M748.5 367h17M750.3 357.1h13.4v13.4h-13.4z" fill="none" stroke="#008b00" stroke-width="1.9"/>
<path d="M123.3 85.4h5.8M123.3 76.9v17M129.1 76.9v17M126.2 83.5v3.9M117.7 83.5h17M117.7 87.4h17M119.5 78.7h13.4v13.4h-13.4zM128.8 88.8h3.3M128.8 80.3v17M132 80.3v17M130.4 87.4v2.8M121.9 87.4h17M121.9 90.3h17M123.7 82.1h13.4v13.4h-13.4zM128.6 88.1h6.3M128.6 79.6v17M135 79.6v17M131.8 86.8v2.5M123.3 86.8h17M123.3 89.4h17M125.1 81.4h13.4v13.4h-13.4zM132 89.3h2.5M132 80.8v17M134.4 80.8v17M133.2 86.9v4.8M124.7 86.9h17M124.7 91.7h17M126.5 82.6h13.4v13.4h-13.4zM142.6 94.3h3.6M142.6 85.8v17M146.2 85.8v17M144.4 92.5v3.7M135.9 92.5h17M135.9 96.2h17M137.7 87.6h13.4v13.4h-13.4zM147.5 95.1h4.9M147.5 86.6v17M152.5 86.6v17M150 93.7v2.7M141.5 93.7h17M141.5 96.4h17M143.3 88.4h13.4v13.4h-13.4zM152.8 98.9h5.7M152.8 90.4v17M158.4 90.4v17M155.6 97.2v3.5M147.1 97.2h17M147.1 100.7h17M148.9 92.2h13.4v13.4h-13.4zM157 100.5h5.5M157 92v17M162.6 92v17M159.8 99.1v2.9M151.3 99.1h17M151.3 102h17M153.1 93.8h13.4v13.4h-13.4zM162.1 101.9h3.8M162.1 93.4v17M165.9 93.4v17M164 100.2v3.4M155.5 100.2h17M155.5 103.6h17M157.3 95.2h13.4v13.4h-13.4zM167.9 103.3h3.5M167.9 94.8v17M171.3 94.8v17M169.6 101.1v4.4M161.1 101.1h17M161.1 105.5h17M162.9 96.6h13.4v13.4h-13.4zM168.4 104.5h5.2M168.4 96v17M173.6 96v17M171 103.3v2.4M162.5 103.3h17M162.5 105.7h17M164.3 97.8h13.4v13.4h-13.4zM169.9 104.3h5.1M169.9 95.8v17M174.9 95.8v17M172.4 102.1v4.4M163.9 102.1h17M163.9 106.4h17M165.7 97.6h13.4v13.4h-13.4zM223.4 124.4h3.2M223.4 115.9v17M226.6 115.9v17M225 123.1v2.7M216.5 123.1h17M216.5 125.8h17M218.3 117.7h13.4v13.4h-13.4zM222.7 127.8h6.6M222.7 119.3v17M229.3 119.3v17M226 125.7v4.2M217.5 125.7h17M217.5 129.9h17M219.3 121.1h13.4v13.4h-13.4zM316 157.2h6.3M316 148.7v17M322.4 148.7v17M319.2 154.9v4.5M310.7 154.9h17M310.7 159.4h17M312.5 150.5h13.4v13.4h-13.4zM317 157.7h5.9M317 149.2v17M323 149.2v17M320 155v5.4M311.5 155h17M311.5 160.4h17M313.3 151h13.4v13.4h-13.4zM362 176.5h6.1M362 168v17M368 168v17M365 174.1v4.7M356.5 174.1h17M356.5 178.9h17M358.3 169.8h13.4v13.4h-13.4zM370.3 179.1h4.8M370.3 170.6v17M375.1 170.6v17M372.7 176v6.3M364.2 176h17M364.2 182.2h17M366 172.4h13.4v13.4h-13.4zM400.3 189h5.3M400.3 180.5v17M405.7 180.5v17M403 187.1v3.9M394.5 187.1h17M394.5 191h17M396.3 182.3h13.4v13.4h-13.4zM464.2 209.3h3.1M464.2 200.8v17M467.2 200.8v17M465.7 207v4.7M457.2 207h17M457.2 211.7h17M459 202.6h13.4v13.4h-13.4zM532.9 235.2h4.1M532.9 226.7v17M537.1 226.7v17M535 232.8v4.8M526.5 232.8h17M526.5 237.6h17M528.3 228.5h13.4v13.4h-13.4zM550.8 248.8h4.3M550.8 240.3v17M555.2 240.3v17M553 246.5v4.6M544.5 246.5h17M544.5 251.1h17M546.3 242.1h13.4v13.4h-13.4zM629.4 274.1h3.2M629.4 265.6v17M632.6 265.6v17M631 272.3v3.6M622.5 272.3h17M622.5 275.9h17M624.3 267.4h13.4v13.4h-13.4zM639.4 277.9h3.3M639.4 269.4v17M642.6 269.4v17M641 275.5v4.9M632.5 275.5h17M632.5 280.4h17M634.3 271.2h13.4v13.4h-13.4zM659.9 290.1h6.2M659.9 281.6v17M666.1 281.6v17M663 288.3v3.6M654.5 288.3h17M654.5 291.9h17M656.3 283.4h13.4v13.4h-13.4zM744.6 330.4h2.9M744.6 321.9v17M747.4 321.9v17M746 327.4v6M737.5 327.4h17M737.5 333.4h17M739.3 323.7h13.4v13.4h-13.4zM775.2 345.9h2.6M775.2 337.4v17M777.8 337.4v17M776.5 342.9v6.1M768 342.9h17M768 349h17M769.8 339.2h13.4v13.4h-13.4zM805.1 367.4h3.9M805.1 358.9v17M808.9 358.9v17M807 365.8v3.2M798.5 365.8h17M798.5 369h17M800.3 360.7h13.4v13.4h-13.4zM808.9 369.4h2.2M808.9 360.9v17M811.1 360.9v17M810 367.6v3.7M801.5 367.6h17M801.5 371.3h17M803.3 362.7h13.4v13.4h-13.4zM423.7 198.9h4.3M423.7 190.4v17M428 190.4v17M425.9 197.5v2.7M417.4 197.5h17M417.4 200.2h17M419.2 192.2h13.4v13.4h-13.4zM464.8 214.2h3.6M464.8 205.7v17M468.4 205.7v17M466.6 212.6v3.2M458.1 212.6h17M458.1 215.8h17M459.9 207.5h13.4v13.4h-13.4zM508.7 230.9h3.5M508.7 222.4v17M512.2 222.4v17M510.4 229.6v2.5M501.9 229.6h17M501.9 232.2h17M503.7 224.2h13.4v13.4h-13.4zM524.4 232.5h6.4M524.4 224v17M530.8 224v17M527.6 231.1v2.9M519.1 231.1h17M519.1 234h17M520.9 225.8h13.4v13.4h-13.4zM629.9 279h3.6M629.9 270.5v17M633.4 270.5v17M631.7 276.6v4.8M623.2 276.6h17M623.2 281.4h17M625 272.3h13.4v13.4h-13.4zM636.3 278.2h6.6M636.3 269.7v17M642.9 269.7v17M639.6 276.8v2.9M631.1 276.8h17M631.1 279.7h17M632.9 271.5h13.4v13.4h-13.4zM649.3 282.8h6.1M649.3 274.3v17M655.4 274.3v17M652.4 280.8v3.9M643.9 280.8h17M643.9 284.8h17M645.7 276.1h13.4v13.4h-13.4zM730.7 323.5h2.7M730.7 315v17M733.4 315v17M732.1 321.6v3.6M723.6 321.6h17M723.6 325.3h17M725.4 316.8h13.4v13.4h-13.4zM741.6 332.9h3M741.6 324.4v17M744.6 324.4v17M743.1 330.3v5.3M734.6 330.3h17M734.6 335.5h17M736.4 326.2h13.4v13.4h-13.4z" fill="none" stroke="#ff0000" stroke-width="1.9"/>
<path d="M132.4 75.2h2.7M132.4 66.7v17M135 66.7v17M133.7 73.3v3.8M125.2 73.3h17M125.2 77.1h17M127 68.5h13.4v13.4h-13.4zM133.5 74.6h3.1M133.5 66.1v17M136.5 66.1v17M135 72v5.2M126.5 72h17M126.5 77.2h17M128.3 67.9h13.4v13.4h-13.4zM142.8 77.5h2.7M142.8 69v17M145.4 69v17M144.1 75.8v3.5M135.6 75.8h17M135.6 79.3h17M137.4 70.8h13.4v13.4h-13.4zM153.1 83.7h5.5M153.1 75.2v17M158.5 75.2v17M155.8 80.8v5.8M147.3 80.8h17M147.3 86.6h17M149.1 77h13.4v13.4h-13.4zM156.8 85h3.3M156.8 76.5v17M160 76.5v17M158.4 82.1v5.7M149.9 82.1h17M149.9 87.8h17M151.7 78.3h13.4v13.4h-13.4zM157.6 84.2h4.2M157.6 75.7v17M161.8 75.7v17M159.7 81.9v4.6M151.2 81.9h17M151.2 86.5h17M153 77.5h13.4v13.4h-13.4zM159.7 84.8h2.6M159.7 76.3v17M162.3 76.3v17M161 82.5v4.7M152.5 82.5h17M152.5 87.1h17M154.3 78.1h13.4v13.4h-13.4zM182.9 97.1h5.4M182.9 88.6v17M188.3 88.6v17M185.6 94.3v5.7M177.1 94.3h17M177.1 100h17M178.9 90.4h13.4v13.4h-13.4zM183 96.3h6.9M183 87.8v17M190 87.8v17M186.5 94.1v4.4M178 94.1h17M178 98.5h17M179.8 89.6h13.4v13.4h-13.4zM262.4 124.6h2.6M262.4 116.1v17M265 116.1v17M263.7 122.6v4.2M255.2 122.6h17M255.2 126.7h17M257 117.9h13.4v13.4h-13.4zM298.7 136.3h3.3M298.7 127.8v17M302.1 127.8v17M300.4 133.6v5.3M291.9 133.6h17M291.9 138.9h17M293.7 129.6h13.4v13.4h-13.4zM304.7 141.6h6.5M304.7 133.1v17M311.3 133.1v17M308 138.9v5.5M299.5 138.9h17M299.5 144.4h17M301.3 134.9h13.4v13.4h-13.4zM388.4 168.5h3.2M388.4 160v17M391.6 160v17M390 166.7v3.6M381.5 166.7h17M381.5 170.3h17M383.3 161.8h13.4v13.4h-13.4zM529 219.8h4M529 211.3v17M533 211.3v17M531 216.8v5.9M522.5 216.8h17M522.5 222.7h17M524.3 213.1h13.4v13.4h-13.4zM596.6 246h2.9M596.6 237.5v17M599.4 237.5v17M598 243.8v4.5M589.5 243.8h17M589.5 248.3h17M591.3 239.3h13.4v13.4h-13.4zM602.2 248.2h4.7M602.2 239.7v17M607 239.7v17M604.6 245.9v4.6M596.1 245.9h17M596.1 250.5h17M597.9 241.5h13.4v13.4h-13.4zM655.4 270.2h3.2M655.4 261.7v17M658.6 261.7v17M657 267.1v6.2M648.5 267.1h17M648.5 273.3h17M650.3 263.5h13.4v13.4h-13.4zM685.3 279.5h4.2M685.3 271v17M689.5 271v17M687.4 278.3v2.5M678.9 278.3h17M678.9 280.8h17M680.7 272.8h13.4v13.4h-13.4zM722.7 302.7h6.1M722.7 294.2v17M728.7 294.2v17M725.7 300.1v5.1M717.2 300.1h17M717.2 305.2h17M719 296h13.4v13.4h-13.4zM805.4 346h2.1M805.4 337.5v17M807.6 337.5v17M806.5 344.8v2.3M798 344.8h17M798 347.2h17M799.8 339.3h13.4v13.4h-13.4zM808.2 348.2h3.6M808.2 339.7v17M811.8 339.7v17M810 346.6v3.3M801.5 346.6h17M801.5 349.9h17M803.3 341.5h13.4v13.4h-13.4zM561.5 233.5h4.6M561.5 225v17M566.1 225v17M563.8 231.1v4.7M555.3 231.1h17M555.3 235.8h17M557.1 226.8h13.4v13.4h-13.4zM703.7 287.2h3.8M703.7 278.7v17M707.5 278.7v17M705.6 284.5v5.6M697.1 284.5h17M697.1 290h17M698.9 280.5h13.4v13.4h-13.4z" fill="none" stroke="#000000" stroke-width="1.9"/>
<path d="M136.6 164h2.8M136.6 155.5v17M139.4 155.5v17M138 162.6v2.8M129.5 162.6h17M129.5 165.4h17M130.5 164l7.5 -7.5l7.5 7.5l-7.5 7.5zM141.5 165.5h2.5M141.5 157v17M144.1 157v17M142.8 163.3v4.5M134.3 163.3h17M134.3 167.8h17M135.3 165.5l7.5 -7.5l7.5 7.5l-7.5 7.5zM148.7 168.8h4.1M148.7 160.3v17M152.9 160.3v17M150.8 167.5v2.5M142.3 167.5h17M142.3 170h17M143.3 168.8l7.5 -7.5l7.5 7.5l-7.5 7.5zM150.6 169.7h6.9M150.6 161.2v17M157.4 161.2v17M154 166.5v6.4M145.5 166.5h17M145.5 172.8h17M146.5 169.7l7.5 -7.5l7.5 7.5l-7.5 7.5zM405.5 274.4h5M405.5 265.9v17M410.5 265.9v17M408 272.1v4.5M399.5 272.1h17M399.5 276.6h17M400.5 274.4l7.5 -7.5l7.5 7.5l-7.5 7.5zM449.5 291.6h5.1M449.5 283.1v17M454.5 283.1v17M452 288.9v5.5M443.5 288.9h17M443.5 294.4h17M444.5 291.6l7.5 -7.5l7.5 7.5l-7.5 7.5zM475.1 303.6h5.1M475.1 295.1v17M480.1 295.1v17M477.6 300.8v5.4M469.1 300.8h17M469.1 306.3h17M470.1 303.6l7.5 -7.5l7.5 7.5l-7.5 7.5zM500.5 315.5h6.9M500.5 307v17M507.5 307v17M504 312.9v5.2M495.5 312.9h17M495.5 318.1h17M496.5 315.5l7.5 -7.5l7.5 7.5l-7.5 7.5zM620.8 371.4h4M620.8 362.9v17M624.8 362.9v17M622.8 369.8v3.2M614.3 369.8h17M614.3 373h17M615.3 371.4l7.5 -7.5l7.5 7.5l-7.5 7.5zM726.2 428.9h3.5M726.2 420.4v17M729.8 420.4v17M728 427.5v2.8M719.5 427.5h17M719.5 430.4h17M720.5 428.9l7.5 -7.5l7.5 7.5l-7.5 7.5zM770.1 456.7h6.4M770.1 448.2v17M776.5 448.2v17M773.3 454.7v4M764.8 454.7h17M764.8 458.7h17M765.8 456.7l7.5 -7.5l7.5 7.5l-7.5 7.5zM448.7 292.8h6M448.7 284.3v17M454.7 284.3v17M451.7 290.3v5M443.2 290.3h17M443.2 295.4h17M444.2 292.8l7.5 -7.5l7.5 7.5l-7.5 7.5zM600.8 359.1h6.4M600.8 350.6v17M607.2 350.6v17M604 356.3v5.6M595.5 356.3h17M595.5 361.9h17M596.5 359.1l7.5 -7.5l7.5 7.5l-7.5 7.5z" fill="none" stroke="#9400d3" stroke-width="1.9"/>
<path d="M130.1 139h3.5M130.1 130.5v17M133.5 130.5v17M131.8 136v6M123.3 136h17M123.3 142h17M124.3 139l7.5 -7.5l7.5 7.5l-7.5 7.5zM137.5 143h5.4M137.5 134.5v17M142.9 134.5v17M140.2 140.1v5.9M131.7 140.1h17M131.7 145.9h17M132.7 143l7.5 -7.5l7.5 7.5l-7.5 7.5zM166.2 155.6h2.9M166.2 147.1v17M169.2 147.1v17M167.7 154v3M159.2 154h17M159.2 157.1h17M160.2 155.6l7.5 -7.5l7.5 7.5l-7.5 7.5zM236.1 185.6h5.8M236.1 177.1v17M241.9 177.1v17M239 184.2v2.8M230.5 184.2h17M230.5 187h17M231.5 185.6l7.5 -7.5l7.5 7.5l-7.5 7.5zM258.3 194.1h5.2M258.3 185.6v17M263.5 185.6v17M260.9 192.1v4M252.4 192.1h17M252.4 196.1h17M253.4 194.1l7.5 -7.5l7.5 7.5l-7.5 7.5zM756.4 409h3.5M756.4 400.5v17M759.9 400.5v17M758.1 406.1v5.6M749.6 406.1h17M749.6 411.8h17M750.6 409l7.5 -7.5l7.5 7.5l-7.5 7.5zM836.7 470.7h2M836.7 462.2v17M838.7 462.2v17M837.7 468.9v3.6M829.2 468.9h17M829.2 472.5h17M830.2 470.7l7.5 -7.5l7.5 7.5l-7.5 7.5zM588.3 327.5h6.8M588.3 319v17M595.2 319v17M591.7 326v2.8M583.2 326h17M583.2 328.9h17M584.2 327.5l7.5 -7.5l7.5 7.5l-7.5 7.5zM600.8 333.3h6.3M600.8 324.8v17M607.1 324.8v17M604 330.2v6.3M595.5 330.2h17M595.5 336.5h17M596.5 333.3l7.5 -7.5l7.5 7.5l-7.5 7.5zM768.4 419.9h2.9M768.4 411.4v17M771.3 411.4v17M769.9 418.5v2.9M761.4 418.5h17M761.4 421.4h17M762.4 419.9l7.5 -7.5l7.5 7.5l-7.5 7.5z" fill="none" stroke="#bc8f8f" stroke-width="1.9"/>
<path d="M175.9 141.2h6.2M175.9 132.7v17M182.1 132.7v17M179 139v4.5M170.5 139h17M170.5 143.5h17M171.5 141.2l7.5 -7.5l7.5 7.5l-7.5 7.5zM201.7 153.6h3.5M201.7 145.1v17M205.3 145.1v17M203.5 151v5.4M195 151h17M195 156.3h17M196 153.6l7.5 -7.5l7.5 7.5l-7.5 7.5zM532.7 282h6.5M532.7 273.5v17M539.1 273.5v17M535.9 279.5v4.9M527.4 279.5h17M527.4 284.4h17M528.4 282l7.5 -7.5l7.5 7.5l-7.5 7.5zM533.9 281.2h6.1M533.9 272.7v17M540.1 272.7v17M537 279.3v3.8M528.5 279.3h17M528.5 283.1h17M529.5 281.2l7.5 -7.5l7.5 7.5l-7.5 7.5zM574.9 299.6h6.2M574.9 291.1v17M581.1 291.1v17M578 298v3.1M569.5 298h17M569.5 301.1h17M570.5 299.6l7.5 -7.5l7.5 7.5l-7.5 7.5zM592.6 304.4h4.1M592.6 295.9v17M596.6 295.9v17M594.6 301.5v5.7M586.1 301.5h17M586.1 307.2h17M587.1 304.4l7.5 -7.5l7.5 7.5l-7.5 7.5zM613.5 318.9h2.9M613.5 310.4v17M616.5 310.4v17M615 316.4v4.9M606.5 316.4h17M606.5 321.4h17M607.5 318.9l7.5 -7.5l7.5 7.5l-7.5 7.5zM772.6 398.8h5.4M772.6 390.3v17M778 390.3v17M775.3 396.6v4.3M766.8 396.6h17M766.8 400.9h17M767.8 398.8l7.5 -7.5l7.5 7.5l-7.5 7.5zM829.9 435.6h2.3M829.9 427.1v17M832.1 427.1v17M831 433.7v3.9M822.5 433.7h17M822.5 437.5h17M823.5 435.6l7.5 -7.5l7.5 7.5l-7.5 7.5zM450 245.2h7.1M450 236.7v17M457.1 236.7v17M453.5 243.9v2.6M445 243.9h17M445 246.4h17M446 245.2l7.5 -7.5l7.5 7.5l-7.5 7.5zM460.9 246.9h3.2M460.9 238.4v17M464.1 238.4v17M462.5 244.2v5.5M454 244.2h17M454 249.7h17M455 246.9l7.5 -7.5l7.5 7.5l-7.5 7.5zM743.4 381.9h3.3M743.4 373.4v17M746.7 373.4v17M745.1 380.7v2.4M736.6 380.7h17M736.6 383.2h17M737.6 381.9l7.5 -7.5l7.5 7.5l-7.5 7.5z" fill="none" stroke="#0000ff" stroke-width="1.9"/>
<path d="M122.8 98.2h4.8M122.8 89.7v17M127.6 89.7v17M125.2 95.9v4.6M116.7 95.9h17M116.7 100.4h17M117.7 98.2l7.5 -7.5l7.5 7.5l-7.5 7.5zM135 103.6h6.1M135 95.1v17M141 95.1v17M138 102v3.2M129.5 102h17M129.5 105.3h17M130.5 103.6l7.5 -7.5l7.5 7.5l-7.5 7.5zM137.4 105.3h4.4M137.4 96.8v17M141.8 96.8v17M139.6 103v4.6M131.1 103h17M131.1 107.6h17M132.1 105.3l7.5 -7.5l7.5 7.5l-7.5 7.5zM152.6 111.1h6.1M152.6 102.6v17M158.6 102.6v17M155.6 109.7v2.8M147.1 109.7h17M147.1 112.5h17M148.1 111.1l7.5 -7.5l7.5 7.5l-7.5 7.5zM159.3 114.5h5.5M159.3 106v17M164.7 106v17M162 111.4v6.1M153.5 111.4h17M153.5 117.6h17M154.5 114.5l7.5 -7.5l7.5 7.5l-7.5 7.5zM166.2 117.6h4.4M166.2 109.1v17M170.6 109.1v17M168.4 116.2v2.8M159.9 116.2h17M159.9 119h17M160.9 117.6l7.5 -7.5l7.5 7.5l-7.5 7.5zM315.2 174.1h6.2M315.2 165.6v17M321.4 165.6v17M318.3 172.1v3.9M309.8 172.1h17M309.8 176h17M310.8 174.1l7.5 -7.5l7.5 7.5l-7.5 7.5zM398.8 202.8h6.4M398.8 194.3v17M405.2 194.3v17M402 200.4v4.8M393.5 200.4h17M393.5 205.3h17M394.5 202.8l7.5 -7.5l7.5 7.5l-7.5 7.5zM799.1 386.5h1.8M799.1 378v17M800.9 378v17M800 385.3v2.3M791.5 385.3h17M791.5 387.6h17M792.5 386.5l7.5 -7.5l7.5 7.5l-7.5 7.5zM513.1 246.7h4M513.1 238.2v17M517.1 238.2v17M515.1 243.9v5.7M506.6 243.9h17M506.6 249.6h17M507.6 246.7l7.5 -7.5l7.5 7.5l-7.5 7.5z" fill="none" stroke="#008b00" stroke-width="1.9"/>
<path d="M126.5 86.5h4.9M126.5 78v17M131.5 78v17M129 84.2v4.5M120.5 84.2h17M120.5 88.7h17M121.5 86.5l7.5 -7.5l7.5 7.5l-7.5 7.5zM135 91.1h4.8M135 82.6v17M139.8 82.6v17M137.4 89.3v3.5M128.9 89.3h17M128.9 92.8h17M129.9 91.1l7.5 -7.5l7.5 7.5l-7.5 7.5zM142.2 93.6h7.1M142.2 85.1v17M149.4 85.1v17M145.8 90.8v5.6M137.3 90.8h17M137.3 96.4h17M138.3 93.6l7.5 -7.5l7.5 7.5l-7.5 7.5zM149 96.8h4.8M149 88.3v17M153.8 88.3v17M151.4 95.6v2.5M142.9 95.6h17M142.9 98h17M143.9 96.8l7.5 -7.5l7.5 7.5l-7.5 7.5zM153.6 98.9h6.8M153.6 90.4v17M160.4 90.4v17M157 96.4v4.9M148.5 96.4h17M148.5 101.3h17M149.5 98.9l7.5 -7.5l7.5 7.5l-7.5 7.5zM154.9 99.2h7M154.9 90.7v17M161.9 90.7v17M158.4 97.5v3.6M149.9 97.5h17M149.9 101h17M150.9 99.2l7.5 -7.5l7.5 7.5l-7.5 7.5zM159.4 99.1h3.7M159.4 90.6v17M163 90.6v17M161.2 97v4.3M152.7 97h17M152.7 101.3h17M153.7 99.1l7.5 -7.5l7.5 7.5l-7.5 7.5zM161 100.1h3.1M161 91.6v17M164.2 91.6v17M162.6 98.7v2.9M154.1 98.7h17M154.1 101.6h17M155.1 100.1l7.5 -7.5l7.5 7.5l-7.5 7.5zM165.7 102.8h5M165.7 94.3v17M170.7 94.3v17M168.2 100.3v4.9M159.7 100.3h17M159.7 105.2h17M160.7 102.8l7.5 -7.5l7.5 7.5l-7.5 7.5zM247.2 134h2.9M247.2 125.5v17M250.2 125.5v17M248.7 132.4v3.3M240.2 132.4h17M240.2 135.7h17M241.2 134l7.5 -7.5l7.5 7.5l-7.5 7.5zM287 147.5h4.1M287 139v17M291 139v17M289 144.9v5.1M280.5 144.9h17M280.5 150h17M281.5 147.5l7.5 -7.5l7.5 7.5l-7.5 7.5zM430.7 200.9h4.5M430.7 192.4v17M435.3 192.4v17M433 199.3v3.1M424.5 199.3h17M424.5 202.5h17M425.5 200.9l7.5 -7.5l7.5 7.5l-7.5 7.5zM516.6 233.6h6.8M516.6 225.1v17M523.4 225.1v17M520 230.9v5.5M511.5 230.9h17M511.5 236.4h17M512.5 233.6l7.5 -7.5l7.5 7.5l-7.5 7.5zM523.2 225.5h4.9M523.2 217v17M528 217v17M525.6 223v5.1M517.1 223h17M517.1 228.1h17M518.1 225.5l7.5 -7.5l7.5 7.5l-7.5 7.5zM718.8 321.3h6.4M718.8 312.8v17M725.2 312.8v17M722 318.9v4.9M713.5 318.9h17M713.5 323.7h17M714.5 321.3l7.5 -7.5l7.5 7.5l-7.5 7.5zM757.5 337.7h4.3M757.5 329.2v17M761.7 329.2v17M759.6 336.4v2.6M751.1 336.4h17M751.1 339h17M752.1 337.7l7.5 -7.5l7.5 7.5l-7.5 7.5zM823.7 380.1h3.4M823.7 371.6v17M827.1 371.6v17M825.4 378.8v2.6M816.9 378.8h17M816.9 381.4h17M817.9 380.1l7.5 -7.5l7.5 7.5l-7.5 7.5zM580.3 257.3h3.5M580.3 248.8v17M583.8 248.8v17M582.1 255.2v4.2M573.6 255.2h17M573.6 259.4h17M574.6 257.3l7.5 -7.5l7.5 7.5l-7.5 7.5z" fill="none" stroke="#ff0000" stroke-width="1.9"/>
<path d="M127.2 71.9h2.7M127.2 63.4v17M129.8 63.4v17M128.5 69.3v5.2M120 69.3h17M120 74.5h17M121 71.9l7.5 -7.5l7.5 7.5l-7.5 7.5zM143.9 79.5h2.9M143.9 71v17M146.9 71v17M145.4 77.6v3.7M136.9 77.6h17M136.9 81.3h17M137.9 79.5l7.5 -7.5l7.5 7.5l-7.5 7.5zM144.6 80.6h4.1M144.6 72.1v17M148.8 72.1v17M146.7 79.1v3.1M138.2 79.1h17M138.2 82.1h17M139.2 80.6l7.5 -7.5l7.5 7.5l-7.5 7.5zM148.9 81.8h3.3M148.9 73.3v17M152.3 73.3v17M150.6 79.6v4.6M142.1 79.6h17M142.1 84.1h17M143.1 81.8l7.5 -7.5l7.5 7.5l-7.5 7.5zM203 100.4h4.8M203 91.9v17M207.8 91.9v17M205.4 98.9v3M196.9 98.9h17M196.9 101.9h17M197.9 100.4l7.5 -7.5l7.5 7.5l-7.5 7.5zM460.5 193.8h7.1M460.5 185.3v17M467.5 185.3v17M464 190.8v6M455.5 190.8h17M455.5 196.8h17M456.5 193.8l7.5 -7.5l7.5 7.5l-7.5 7.5zM768.6 328.8h6.4M768.6 320.3v17M775 320.3v17M771.8 326.4v4.7M763.3 326.4h17M763.3 331.1h17M764.3 328.8l7.5 -7.5l7.5 7.5l-7.5 7.5zM848.7 376.2h1.5M848.7 367.7v17M850.3 367.7v17M849.5 374.2v4M841 374.2h17M841 378.2h17M842 376.2l7.5 -7.5l7.5 7.5l-7.5 7.5zM637.9 259.9h3.7M637.9 251.4v17M641.5 251.4v17M639.7 257.6v4.7M631.2 257.6h17M631.2 262.3h17M632.2 259.9l7.5 -7.5l7.5 7.5l-7.5 7.5z" fill="none" stroke="#000000" stroke-width="1.9"/>
<path d="M122.4 157.7h5.6M122.4 149.2v17M128 149.2v17M125.2 156.4v2.6M116.7 156.4h17M116.7 159h17M125.2 150.5L132.4 163.4L118 163.4zM142.6 167.3h3.7M142.6 158.8v17M146.2 158.8v17M144.4 165.3v3.9M135.9 165.3h17M135.9 169.2h17M144.4 160.1L151.6 173L137.2 173zM157 173h6.8M157 164.5v17M163.8 164.5v17M160.4 170.2v5.5M151.9 170.2h17M151.9 175.8h17M160.4 165.8L167.6 178.8L153.2 178.8zM331.2 246h3.6M331.2 237.5v17M334.8 237.5v17M333 244v4.1M324.5 244h17M324.5 248h17M333 238.8L340.2 251.8L325.8 251.8zM493.1 309.1h4.6M493.1 300.6v17M497.7 300.6v17M495.4 306.8v4.5M486.9 306.8h17M486.9 311.3h17M495.4 301.9L502.6 314.8L488.2 314.8zM685.6 406.1h2.8M685.6 397.6v17M688.4 397.6v17M687 404.8v2.6M678.5 404.8h17M678.5 407.5h17M687 398.9L694.2 411.9L679.8 411.9zM693.8 406.8h4.4M693.8 398.3v17M698.2 398.3v17M696 405.5v2.7M687.5 405.5h17M687.5 408.1h17M696 399.6L703.2 412.6L688.8 412.6zM786 467.6h5.5M786 459.1v17M791.4 459.1v17M788.7 465.5v4M780.2 465.5h17M780.2 469.6h17M788.7 460.4L795.9 473.3L781.5 473.3zM799.3 474.9h1.4M799.3 466.4v17M800.7 466.4v17M800 473.9v2.2M791.5 473.9h17M791.5 476h17M800 467.7L807.2 480.7L792.8 480.7zM812.5 484.9h3M812.5 476.4v17M815.5 476.4v17M814 483.5v2.7M805.5 483.5h17M805.5 486.2h17M814 477.7L821.2 490.6L806.8 490.6zM836.6 504.7h2.1M836.6 496.2v17M838.8 496.2v17M837.7 503.2v3.1M829.2 503.2h17M829.2 506.3h17M837.7 497.5L844.9 510.5L830.5 510.5zM854.9 522.2h1.8M854.9 513.7v17M856.7 513.7v17M855.8 521.1v2.2M847.3 521.1h17M847.3 523.3h17M855.8 515L863 528L848.6 528zM889 556.5h0.6M889 548v17M889.6 548v17M889.3 555v3M880.8 555h17M880.8 558h17M889.3 549.3L896.5 562.2L882.1 562.2zM903.7 573.1h0.6M903.7 564.6v17M904.3 564.6v17M904 571.6v3M895.5 571.6h17M895.5 574.6h17M904 565.9L911.2 578.8L896.8 578.8zM474.2 305.8h6.6M474.2 297.3v17M480.9 297.3v17M477.6 303.8v4M469.1 303.8h17M469.1 307.8h17M477.6 298.6L484.8 311.5L470.4 311.5zM681.9 403.2h5.7M681.9 394.7v17M687.5 394.7v17M684.7 401v4.4M676.2 401h17M676.2 405.3h17M684.7 396L691.9 408.9L677.5 408.9zM700.8 411.7h2.7M700.8 403.2v17M703.5 403.2v17M702.2 409v5.3M693.7 409h17M693.7 414.4h17M702.2 404.5L709.4 417.5L695 417.5zM754.4 443h6.1M754.4 434.5v17M760.5 434.5v17M757.5 440.6v4.9M749 440.6h17M749 445.5h17M757.5 435.8L764.7 448.8L750.3 448.8zM765.6 453h2.8M765.6 444.5v17M768.3 444.5v17M767 451.5v3M758.5 451.5h17M758.5 454.5h17M767 445.8L774.2 458.8L759.8 458.8z" fill="none" stroke="#9400d3" stroke-width="1.9"/>
<path d="M122.1 134h2.6M122.1 125.5v17M124.7 125.5v17M123.4 131.3v5.3M114.9 131.3h17M114.9 136.7h17M123.4 126.8L130.6 139.8L116.2 139.8zM122.9 134.5h3.8M122.9 126v17M126.7 126v17M124.8 133.2v2.6M116.3 133.2h17M116.3 135.8h17M124.8 127.3L132 140.3L117.6 140.3zM127.1 137.9h3.8M127.1 129.4v17M130.9 129.4v17M129 135.6v4.6M120.5 135.6h17M120.5 140.2h17M129 130.7L136.2 143.6L121.8 143.6zM141.1 145h6.7M141.1 136.5v17M147.7 136.5v17M144.4 142.8v4.3M135.9 142.8h17M135.9 147.1h17M144.4 137.8L151.6 150.8L137.2 150.8zM150.8 148.5h2.4M150.8 140v17M153.2 140v17M152 146.5v4M143.5 146.5h17M143.5 150.5h17M152 141.3L159.2 154.3L144.8 154.3zM286.3 202.9h5.5M286.3 194.4v17M291.7 194.4v17M289 199.9v5.9M280.5 199.9h17M280.5 205.8h17M289 195.7L296.2 208.6L281.8 208.6zM295.8 205.2h3.6M295.8 196.7v17M299.4 196.7v17M297.6 202.1v6.2M289.1 202.1h17M289.1 208.4h17M297.6 198L304.8 211L290.4 211zM365.6 234.8h3.9M365.6 226.3v17M369.4 226.3v17M367.5 233.5v2.5M359 233.5h17M359 236h17M367.5 227.6L374.7 240.5L360.3 240.5zM397.8 246.9h3.4M397.8 238.4v17M401.2 238.4v17M399.5 244.1v5.6M391 244.1h17M391 249.6h17M399.5 239.7L406.7 252.6L392.3 252.6zM592.8 322.7h3.7M592.8 314.2v17M596.4 314.2v17M594.6 320.1v5.3M586.1 320.1h17M586.1 325.3h17M594.6 315.5L601.8 328.4L587.4 328.4zM608 337h6.9M608 328.5v17M615 328.5v17M611.5 335.7v2.5M603 335.7h17M603 338.2h17M611.5 329.8L618.7 342.7L604.3 342.7zM699.5 384.2h4.5M699.5 375.7v17M704.1 375.7v17M701.8 382.6v3.3M693.3 382.6h17M693.3 385.9h17M701.8 377L709 390L694.6 390zM721 394h3M721 385.5v17M724 385.5v17M722.5 391.1v5.8M714 391.1h17M714 396.9h17M722.5 386.8L729.7 399.8L715.3 399.8zM761.3 422.9h7.2M761.3 414.4v17M768.5 414.4v17M764.9 421.5v2.8M756.4 421.5h17M756.4 424.3h17M764.9 415.7L772.1 428.6L757.7 428.6zM805.3 446.8h1.3M805.3 438.3v17M806.7 438.3v17M806 445.1v3.4M797.5 445.1h17M797.5 448.5h17M806 439.6L813.2 452.6L798.8 452.6zM852.7 487.5h2.6M852.7 479v17M855.3 479v17M854 486.4v2.2M845.5 486.4h17M845.5 488.6h17M854 480.3L861.2 493.2L846.8 493.2zM445.3 266.7h5.5M445.3 258.2v17M450.8 258.2v17M448.1 265.3v2.8M439.6 265.3h17M439.6 268.1h17M448.1 259.5L455.3 272.4L440.9 272.4zM551.5 312.6h6.8M551.5 304.1v17M558.3 304.1v17M554.9 311.2v2.8M546.4 311.2h17M546.4 314h17M554.9 305.4L562.1 318.4L547.7 318.4zM585.3 324.6h4.2M585.3 316.1v17M589.5 316.1v17M587.4 322.4v4.4M578.9 322.4h17M578.9 326.8h17M587.4 317.4L594.6 330.4L580.2 330.4zM725.2 394.4h3.9M725.2 385.9v17M729.1 385.9v17M727.2 392.4v4.1M718.7 392.4h17M718.7 396.5h17M727.2 387.2L734.4 400.2L720 400.2zM738.8 403.2h4.4M738.8 394.7v17M743.3 394.7v17M741.1 400.7v5M732.6 400.7h17M732.6 405.7h17M741.1 396L748.3 409L733.9 409z" fill="none" stroke="#bc8f8f" stroke-width="1.9"/>
<path d="M123.2 117.6h7.1M123.2 109.1v17M130.4 109.1v17M126.8 115.2v4.7M118.3 115.2h17M118.3 119.9h17M126.8 110.4L134 123.3L119.6 123.3zM127 117.3h4.5M127 108.8v17M131.4 108.8v17M129.2 115.1v4.5M120.7 115.1h17M120.7 119.6h17M129.2 110.1L136.4 123.1L122 123.1zM130.2 119.2h5.2M130.2 110.7v17M135.4 110.7v17M132.8 117.6v3.2M124.3 117.6h17M124.3 120.8h17M132.8 112L140 125L125.6 125zM131.7 120.4h4.7M131.7 111.9v17M136.3 111.9v17M134 118.9v2.9M125.5 118.9h17M125.5 121.8h17M134 113.2L141.2 126.1L126.8 126.1zM135.1 121.7h5.1M135.1 113.2v17M140.1 113.2v17M137.6 119.8v3.8M129.1 119.8h17M129.1 123.6h17M137.6 114.5L144.8 127.5L130.4 127.5zM136.5 122.4h4.5M136.5 113.9v17M141.1 113.9v17M138.8 119.3v6.1M130.3 119.3h17M130.3 125.5h17M138.8 115.2L146 128.1L131.6 128.1zM138.9 124h6.9M138.9 115.5v17M145.9 115.5v17M142.4 122.5v3M133.9 122.5h17M133.9 125.5h17M142.4 116.8L149.6 129.8L135.2 129.8zM173.6 140.5h6.5M173.6 132v17M180 132v17M176.8 137.9v5.2M168.3 137.9h17M168.3 143.1h17M176.8 133.3L184 146.3L169.6 146.3zM261.2 174h6.5M261.2 165.5v17M267.8 165.5v17M264.5 171.9v4.1M256 171.9h17M256 176.1h17M264.5 166.8L271.7 179.8L257.3 179.8zM417 231.9h5.9M417 223.4v17M423 223.4v17M420 230.6v2.7M411.5 230.6h17M411.5 233.3h17M420 224.7L427.2 237.7L412.8 237.7zM425.6 233.6h4.1M425.6 225.1v17M429.8 225.1v17M427.7 230.7v5.7M419.2 230.7h17M419.2 236.4h17M427.7 226.4L434.9 239.3L420.5 239.3zM555.1 288.3h5M555.1 279.8v17M560.1 279.8v17M557.6 286.7v3.3M549.1 286.7h17M549.1 290h17M557.6 281.1L564.8 294.1L550.4 294.1zM619.7 320.4h6.2M619.7 311.9v17M625.9 311.9v17M622.8 317.9v4.9M614.3 317.9h17M614.3 322.8h17M622.8 313.2L630 326.1L615.6 326.1zM757 389.6h2.9M757 381.1v17M759.9 381.1v17M758.4 388v3.2M749.9 388h17M749.9 391.2h17M758.4 382.4L765.6 395.3L751.2 395.3zM801.7 414.4h1.7M801.7 405.9v17M803.3 405.9v17M802.5 412.5v3.7M794 412.5h17M794 416.2h17M802.5 407.2L809.7 420.1L795.3 420.1zM506.1 265.5h4.9M506.1 257v17M510.9 257v17M508.5 263v5M500 263h17M500 268h17M508.5 258.3L515.7 271.3L501.3 271.3zM559.2 287.1h4.3M559.2 278.6v17M563.5 278.6v17M561.4 284.4v5.5M552.9 284.4h17M552.9 289.8h17M561.4 279.9L568.6 292.9L554.2 292.9zM686.5 350.9h6.3M686.5 342.4v17M692.8 342.4v17M689.6 348.1v5.7M681.1 348.1h17M681.1 353.7h17M689.6 343.7L696.8 356.7L682.4 356.7zM700.2 355.4h3M700.2 346.9v17M703.2 346.9v17M701.7 352.5v5.7M693.2 352.5h17M693.2 358.3h17M701.7 348.2L708.9 361.2L694.5 361.2zM758.8 392.3h3.7M758.8 383.8v17M762.6 383.8v17M760.7 390.7v3.4M752.2 390.7h17M752.2 394h17M760.7 385.1L767.9 398.1L753.5 398.1z" fill="none" stroke="#0000ff" stroke-width="1.9"/>
<path d="M120.2 96h3.7M120.2 87.5v17M123.8 87.5v17M122 94.4v3.3M113.5 94.4h17M113.5 97.7h17M122 88.8L129.2 101.8L114.8 101.8zM125.2 99.1h6.4M125.2 90.6v17M131.6 90.6v17M128.4 97.2v3.9M119.9 97.2h17M119.9 101.1h17M128.4 91.9L135.6 104.9L121.2 104.9zM134.4 103.4h4M134.4 94.9v17M138.4 94.9v17M136.4 100.4v5.8M127.9 100.4h17M127.9 106.3h17M136.4 96.2L143.6 109.1L129.2 109.1zM143.3 106.7h5.4M143.3 98.2v17M148.7 98.2v17M146 104v5.5M137.5 104h17M137.5 109.5h17M146 99.5L153.2 112.5L138.8 112.5zM147.7 110.5h6.2M147.7 102v17M153.9 102v17M150.8 107.4v6M142.3 107.4h17M142.3 113.5h17M150.8 103.3L158 116.2L143.6 116.2zM149.7 110.1h5.4M149.7 101.6v17M155.1 101.6v17M152.4 107.6v4.9M143.9 107.6h17M143.9 112.5h17M152.4 102.9L159.6 115.8L145.2 115.8zM152.3 110.9h3.4M152.3 102.4v17M155.7 102.4v17M154 108.3v5.1M145.5 108.3h17M145.5 113.4h17M154 103.7L161.2 116.6L146.8 116.6zM161.8 116.4h6.8M161.8 107.9v17M168.6 107.9v17M165.2 114.3v4.2M156.7 114.3h17M156.7 118.5h17M165.2 109.2L172.4 122.1L158 122.1zM163.3 117.4h6.9M163.3 108.9v17M170.3 108.9v17M166.8 114.2v6.3M158.3 114.2h17M158.3 120.6h17M166.8 110.2L174 123.2L159.6 123.2zM170.1 118.6h3M170.1 110.1v17M173.1 110.1v17M171.6 115.5v6.3M163.1 115.5h17M163.1 121.7h17M171.6 111.4L178.8 124.4L164.4 124.4zM173.1 122.1h6.5M173.1 113.6v17M179.7 113.6v17M176.4 119.4v5.3M167.9 119.4h17M167.9 124.7h17M176.4 114.9L183.6 127.8L169.2 127.8zM226.8 142.3h2.5M226.8 133.8v17M229.2 133.8v17M228 141.1v2.5M219.5 141.1h17M219.5 143.5h17M228 135.1L235.2 148.1L220.8 148.1zM264.3 155.7h2.7M264.3 147.2v17M266.9 147.2v17M265.6 153.8v3.9M257.1 153.8h17M257.1 157.6h17M265.6 148.5L272.8 161.4L258.4 161.4zM388.6 202.5h6.4M388.6 194v17M395 194v17M391.8 200.7v3.7M383.3 200.7h17M383.3 204.4h17M391.8 195.3L399 208.3L384.6 208.3zM443.2 223.6h5.3M443.2 215.1v17M448.4 215.1v17M445.8 220.6v6M437.3 220.6h17M437.3 226.6h17M445.8 216.4L453 229.3L438.6 229.3zM462.1 229.9h6.3M462.1 221.4v17M468.5 221.4v17M465.3 226.9v5.9M456.8 226.9h17M456.8 232.9h17M465.3 222.7L472.5 235.7L458.1 235.7zM509.1 246.2h6.8M509.1 237.7v17M515.9 237.7v17M512.5 244.3v3.8M504 244.3h17M504 248.1h17M512.5 239L519.7 252L505.3 252zM705.8 333.9h4.3M705.8 325.4v17M710.2 325.4v17M708 332.5v2.9M699.5 332.5h17M699.5 335.4h17M708 326.7L715.2 339.7L700.8 339.7zM713.3 341.5h5.5M713.3 333v17M718.7 333v17M716 338.4v6.2M707.5 338.4h17M707.5 344.7h17M716 334.3L723.2 347.3L708.8 347.3zM725.5 345.2h4.3M725.5 336.7v17M729.7 336.7v17M727.6 343.2v4.2M719.1 343.2h17M719.1 347.3h17M727.6 338L734.8 351L720.4 351zM763.4 364.4h7.1M763.4 355.9v17M770.6 355.9v17M767 363.1v2.6M758.5 363.1h17M758.5 365.7h17M767 357.2L774.2 370.1L759.8 370.1zM560.9 267.8h5.1M560.9 259.3v17M565.9 259.3v17M563.4 266.4v3M554.9 266.4h17M554.9 269.3h17M563.4 260.6L570.6 273.6L556.2 273.6z" fill="none" stroke="#008b00" stroke-width="1.9"/>
<path d="M121.6 84.6h6.3M121.6 76.1v17M128 76.1v17M124.8 81.6v5.9M116.3 81.6h17M116.3 87.5h17M124.8 77.4L132 90.3L117.6 90.3zM132.1 89.6h4.9M132.1 81.1v17M137.1 81.1v17M134.6 87v5.2M126.1 87h17M126.1 92.2h17M134.6 82.4L141.8 95.4L127.4 95.4zM134.7 90.7h2.6M134.7 82.2v17M137.3 82.2v17M136 89.2v2.9M127.5 89.2h17M127.5 92.1h17M136 83.5L143.2 96.4L128.8 96.4zM165.1 102.1h3.4M165.1 93.6v17M168.5 93.6v17M166.8 99.5v5.2M158.3 99.5h17M158.3 104.7h17M166.8 94.9L174 107.8L159.6 107.8zM182.8 111h3.8M182.8 102.5v17M186.6 102.5v17M184.7 107.8v6.4M176.2 107.8h17M176.2 114.2h17M184.7 103.8L191.9 116.8L177.5 116.8zM352.5 171.4h6.8M352.5 162.9v17M359.3 162.9v17M355.9 169.9v2.9M347.4 169.9h17M347.4 172.8h17M355.9 164.2L363.1 177.1L348.7 177.1zM413.7 192.6h3.8M413.7 184.1v17M417.5 184.1v17M415.6 190.6v4M407.1 190.6h17M407.1 194.6h17M415.6 185.4L422.8 198.4L408.4 198.4zM424.6 198.5h4.2M424.6 190v17M428.8 190v17M426.7 196.6v3.7M418.2 196.6h17M418.2 200.3h17M426.7 191.3L433.9 204.2L419.5 204.2zM542 237.6h4.9M542 229.1v17M547 229.1v17M544.5 236.2v2.8M536 236.2h17M536 239h17M544.5 230.4L551.7 243.4L537.3 243.4zM580.4 254.5h7.2M580.4 246v17M587.6 246v17M584 252.6v3.8M575.5 252.6h17M575.5 256.4h17M584 247.3L591.2 260.2L576.8 260.2zM649.7 285.2h4.1M649.7 276.7v17M653.7 276.7v17M651.7 282v6.4M643.2 282h17M643.2 288.3h17M651.7 278L658.9 290.9L644.5 290.9zM669.3 293.8h2.4M669.3 285.3v17M671.7 285.3v17M670.5 292v3.6M662 292h17M662 295.6h17M670.5 286.6L677.7 299.5L663.3 299.5zM678.3 300.8h3.3M678.3 292.3v17M681.7 292.3v17M680 298.6v4.4M671.5 298.6h17M671.5 302.9h17M680 293.6L687.2 306.5L672.8 306.5zM687.2 301.1h3.7M687.2 292.6v17M690.8 292.6v17M689 298.6v5M680.5 298.6h17M680.5 303.6h17M689 293.9L696.2 306.8L681.8 306.8zM696.5 300.8h4.4M696.5 292.3v17M700.9 292.3v17M698.7 299.4v2.9M690.2 299.4h17M690.2 302.3h17M698.7 293.6L705.9 306.6L691.5 306.6zM737 329h4.1M737 320.5v17M741 320.5v17M739 327.4v3.1M730.5 327.4h17M730.5 330.5h17M739 321.8L746.2 334.7L731.8 334.7zM574.7 255.3h4.2M574.7 246.8v17M578.9 246.8v17M576.8 252.1v6.2M568.3 252.1h17M568.3 258.4h17M576.8 248.1L584 261L569.6 261zM683.8 302.1h5.1M683.8 293.6v17M689 293.6v17M686.4 300.3v3.6M677.9 300.3h17M677.9 303.9h17M686.4 294.9L693.6 307.8L679.2 307.8zM722.4 321.7h2.9M722.4 313.2v17M725.3 313.2v17M723.9 319.4v4.6M715.4 319.4h17M715.4 324h17M723.9 314.5L731.1 327.5L716.7 327.5z" fill="none" stroke="#ff0000" stroke-width="1.9"/>
<path d="M134.5 75.7h3.5M134.5 67.2v17M138.1 67.2v17M136.3 74v3.4M127.8 74h17M127.8 77.4h17M136.3 68.5L143.5 81.5L129.1 81.5zM137.2 76.5h6.1M137.2 68v17M143.2 68v17M140.2 75v3.1M131.7 75h17M131.7 78.1h17M140.2 69.3L147.4 82.3L133 82.3zM138.9 78.6h5.3M138.9 70.1v17M144.1 70.1v17M141.5 76.4v4.2M133 76.4h17M133 80.7h17M141.5 71.4L148.7 84.3L134.3 84.3zM145.7 80.8h7.1M145.7 72.3v17M152.9 72.3v17M149.3 78.5v4.7M140.8 78.5h17M140.8 83.1h17M149.3 73.6L156.5 86.6L142.1 86.6zM151.4 81.4h3.6M151.4 72.9v17M155 72.9v17M153.2 79.7v3.4M144.7 79.7h17M144.7 83.1h17M153.2 74.2L160.4 87.2L146 87.2zM238.6 117.4h3.2M238.6 108.9v17M241.8 108.9v17M240.2 115.3v4.2M231.7 115.3h17M231.7 119.5h17M240.2 110.2L247.4 123.1L233 123.1zM333.9 147.6h4.4M333.9 139.1v17M338.3 139.1v17M336.1 145.8v3.8M327.6 145.8h17M327.6 149.5h17M336.1 140.4L343.3 153.4L328.9 153.4zM397.7 167.9h4.5M397.7 159.4v17M402.3 159.4v17M400 165.6v4.7M391.5 165.6h17M391.5 170.2h17M400 160.7L407.2 173.7L392.8 173.7zM530.7 219.1h4.5M530.7 210.6v17M535.3 210.6v17M533 217.7v2.7M524.5 217.7h17M524.5 220.4h17M533 211.9L540.2 224.8L525.8 224.8zM560.9 228.7h4.2M560.9 220.2v17M565.1 220.2v17M563 226.3v4.7M554.5 226.3h17M554.5 231h17M563 221.5L570.2 234.4L555.8 234.4zM568.8 229.2h4.3M568.8 220.7v17M573.2 220.7v17M571 227.8v2.9M562.5 227.8h17M562.5 230.6h17M571 222L578.2 234.9L563.8 234.9zM637.5 255.6h5.8M637.5 247.1v17M643.3 247.1v17M640.4 252.9v5.4M631.9 252.9h17M631.9 258.3h17M640.4 248.4L647.6 261.4L633.2 261.4zM672.9 277.2h6.1M672.9 268.7v17M679.1 268.7v17M676 275.8v2.9M667.5 275.8h17M667.5 278.7h17M676 270L683.2 283L668.8 283zM695.1 283.6h3.4M695.1 275.1v17M698.5 275.1v17M696.8 281.8v3.6M688.3 281.8h17M688.3 285.4h17M696.8 276.4L704 289.4L689.6 289.4zM712 292.6h6.8M712 284.1v17M718.8 284.1v17M715.4 289.7v5.9M706.9 289.7h17M706.9 295.6h17M715.4 285.4L722.6 298.4L708.2 298.4zM740.4 309.4h2.6M740.4 300.9v17M743 300.9v17M741.7 306.9v4.8M733.2 306.9h17M733.2 311.8h17M741.7 302.2L748.9 315.1L734.5 315.1zM762.5 325.3h3.6M762.5 316.8v17M766.1 316.8v17M764.3 323.7v3.2M755.8 323.7h17M755.8 326.9h17M764.3 318.1L771.5 331.1L757.1 331.1zM490.8 203.2h2.8M490.8 194.7v17M493.6 194.7v17M492.2 201.4v3.7M483.7 201.4h17M483.7 205.1h17M492.2 196L499.4 209L485 209zM533.8 219.4h2.6M533.8 210.9v17M536.4 210.9v17M535.1 217.8v3.1M526.6 217.8h17M526.6 220.9h17M535.1 212.2L542.3 225.1L527.9 225.1zM623.3 254.9h3.7M623.3 246.4v17M627 246.4v17M625.2 253.1v3.5M616.7 253.1h17M616.7 256.6h17M625.2 247.7L632.4 260.6L618 260.6z" fill="none" stroke="#000000" stroke-width="1.9"/>
<path d="M159.7 173.4h4.7M159.7 164.9v17M164.3 164.9v17M162 171.8v3.1M153.5 171.8h17M153.5 174.9h17M154.8 173.4L167.8 166.2L167.8 180.6zM233 206.2h3M233 197.7v17M236 197.7v17M234.5 204.7v3M226 204.7h17M226 207.7h17M227.3 206.2L240.3 199L240.3 213.4zM234.6 206.4h6.7M234.6 197.9v17M241.4 197.9v17M238 203.6v5.6M229.5 203.6h17M229.5 209.2h17M230.8 206.4L243.8 199.2L243.8 213.6zM238.4 210.5h7.1M238.4 202v17M245.6 202v17M242 208v5M233.5 208h17M233.5 213h17M234.8 210.5L247.8 203.3L247.8 217.7zM295 233.5h4.1M295 225v17M299 225v17M297 231.2v4.6M288.5 231.2h17M288.5 235.8h17M289.8 233.5L302.8 226.3L302.8 240.7zM554.6 340.4h6.7M554.6 331.9v17M561.4 331.9v17M558 338.9v3M549.5 338.9h17M549.5 341.9h17M550.8 340.4L563.8 333.2L563.8 347.6zM741.9 436.5h3.8M741.9 428v17M745.7 428v17M743.8 434.3v4.4M735.3 434.3h17M735.3 438.7h17M736.6 436.5L749.5 429.3L749.5 443.7zM755.4 447.2h5M755.4 438.7v17M760.5 438.7v17M758 445.6v3.2M749.5 445.6h17M749.5 448.8h17M750.8 447.2L763.7 440L763.7 454.4zM695.2 413.2h4.8M695.2 404.7v17M700 404.7v17M697.6 410.9v4.5M689.1 410.9h17M689.1 415.5h17M690.4 413.2L703.4 406L703.4 420.4zM716.8 422.9h7.1M716.8 414.4v17M723.8 414.4v17M720.3 420.7v4.4M711.8 420.7h17M711.8 425.1h17M713.1 422.9L726.1 415.7L726.1 430.1z" fill="none" stroke="#9400d3" stroke-width="1.9"/>
<path d="M124.1 136.5h7.1M124.1 128v17M131.1 128v17M127.6 134.8v3.4M119.1 134.8h17M119.1 138.2h17M120.4 136.5L133.4 129.3L133.4 143.7zM427.2 261.2h4.8M427.2 252.7v17M432 252.7v17M429.6 259.6v3.2M421.1 259.6h17M421.1 262.8h17M422.4 261.2L435.4 254L435.4 268.4zM444.6 265.1h3.8M444.6 256.6v17M448.4 256.6v17M446.5 262v6.2M438 262h17M438 268.2h17M439.3 265.1L452.3 257.9L452.3 272.3zM566.7 312h2.6M566.7 303.5v17M569.3 303.5v17M568 310.7v2.5M559.5 310.7h17M559.5 313.3h17M560.8 312L573.8 304.8L573.8 319.2zM652 355.7h5.3M652 347.2v17M657.4 347.2v17M654.7 353.9v3.7M646.2 353.9h17M646.2 357.6h17M647.5 355.7L660.5 348.5L660.5 362.9zM662.6 360.2h2.8M662.6 351.7v17M665.4 351.7v17M664 358.7v3.2M655.5 358.7h17M655.5 361.8h17M656.8 360.2L669.8 353L669.8 367.4zM671.8 368.4h3.6M671.8 359.9v17M675.4 359.9v17M673.6 367.1v2.7M665.1 367.1h17M665.1 369.7h17M666.4 368.4L679.4 361.2L679.4 375.6z" fill="none" stroke="#bc8f8f" stroke-width="1.9"/>
<path d="M170.1 138.1h4.6M170.1 129.6v17M174.7 129.6v17M172.4 136.4v3.3M163.9 136.4h17M163.9 139.7h17M165.2 138.1L178.2 130.9L178.2 145.3zM498.3 263.7h3.4M498.3 255.2v17M501.7 255.2v17M500 261.9v3.7M491.5 261.9h17M491.5 265.5h17M492.8 263.7L505.8 256.5L505.8 270.9zM672.4 345.5h6M672.4 337v17M678.4 337v17M675.4 343v5M666.9 343h17M666.9 348h17M668.2 345.5L681.2 338.3L681.2 352.7zM690.8 353.6h3.2M690.8 345.1v17M694 345.1v17M692.4 351.5v4.2M683.9 351.5h17M683.9 355.7h17M685.2 353.6L698.2 346.4L698.2 360.8zM749.5 390.8h4.5M749.5 382.3v17M754 382.3v17M751.8 389.2v3.2M743.3 389.2h17M743.3 392.4h17M744.6 390.8L757.5 383.6L757.5 398zM638.6 327.1h6.9M638.6 318.6v17M645.5 318.6v17M642.1 324.9v4.5M633.6 324.9h17M633.6 329.4h17M634.9 327.1L647.8 319.9L647.8 334.3zM653.5 336h6.3M653.5 327.5v17M659.8 327.5v17M656.6 333.5v4.9M648.1 333.5h17M648.1 338.5h17M649.4 336L662.4 328.8L662.4 343.2z" fill="none" stroke="#0000ff" stroke-width="1.9"/>
<path d="M153.8 112.6h6.8M153.8 104.1v17M160.6 104.1v17M157.2 110.1v5M148.7 110.1h17M148.7 115.1h17M150 112.6L163 105.4L163 119.8z" fill="none" stroke="#008b00" stroke-width="1.9"/>
<path d="M149.4 98h6.9M149.4 89.5v17M156.2 89.5v17M152.8 95.5v4.9M144.3 95.5h17M144.3 100.4h17M145.6 98L158.6 90.8L158.6 105.2z" fill="none" stroke="#ff0000" stroke-width="1.9"/>
<path d="M121.4 70.5h6.4M121.4 62v17M127.8 62v17M124.6 68.8v3.5M116.1 68.8h17M116.1 72.3h17M117.4 70.5L130.4 63.3L130.4 77.7zM124 72.6h6.4M124 64.1v17M130.4 64.1v17M127.2 70.2v4.9M118.7 70.2h17M118.7 75.1h17M120 72.6L133 65.4L133 79.8zM674.7 274.5h6.6M674.7 266v17M681.3 266v17M678 271.7v5.5M669.5 271.7h17M669.5 277.2h17M670.8 274.5L683.8 267.3L683.8 281.7zM750.6 314.3h4.8M750.6 305.8v17M755.5 305.8v17M753.1 311.8v4.9M744.6 311.8h17M744.6 316.8h17M745.9 314.3L758.8 307.1L758.8 321.5z" fill="none" stroke="#000000" stroke-width="1.9"/>
<path d="M156.4 172.6h4.7M156.4 164.1v17M161.2 164.1v17M158.8 170.1v5M150.3 170.1h17M150.3 175.1h17M158.8 179.8L166 166.9L151.6 166.9zM160.1 174.4h7.1M160.1 165.9v17M167.1 165.9v17M163.6 172.4v4M155.1 172.4h17M155.1 176.4h17M163.6 181.6L170.8 168.7L156.4 168.7zM207.2 200.3h17M207.2 191.8v17M224.2 191.8v17M215.7 198.1v4.4M207.2 198.1h17M207.2 202.5h17M215.7 207.5L222.9 194.5L208.5 194.5zM525 321.8h3.1M525 313.3v17M528 313.3v17M526.5 320.4v2.9M518 320.4h17M518 323.3h17M526.5 329L533.7 316.1L519.3 316.1zM601.4 354.4h3.2M601.4 345.9v17M604.6 345.9v17M603 352.3v4.1M594.5 352.3h17M594.5 356.4h17M603 361.6L610.2 348.6L595.8 348.6zM677.2 397.6h3.6M677.2 389.1v17M680.8 389.1v17M679 396.1v3M670.5 396.1h17M670.5 399.1h17M679 404.8L686.2 391.8L671.8 391.8zM702.3 415.5h2.8M702.3 407v17M705.1 407v17M703.7 412.6v5.8M695.2 412.6h17M695.2 418.4h17M703.7 422.7L710.9 409.7L696.5 409.7zM832.1 501.6h3.9M832.1 493.1v17M835.9 493.1v17M834 500.2v2.7M825.5 500.2h17M825.5 503h17M834 508.8L841.2 495.8L826.8 495.8zM855.2 522.7h2.2M855.2 514.2v17M857.4 514.2v17M856.3 521.7v2.1M847.8 521.7h17M847.8 523.8h17M856.3 529.9L863.5 517L849.1 517zM585.5 351.1h3.1M585.5 342.6v17M588.6 342.6v17M587 348.9v4.5M578.5 348.9h17M578.5 353.4h17M587 358.3L594.2 345.4L579.8 345.4zM676.2 398.5h5.1M676.2 390v17M681.3 390v17M678.8 396.1v4.9M670.3 396.1h17M670.3 401h17M678.8 405.7L686 392.8L671.6 392.8z" fill="none" stroke="#9400d3" stroke-width="1.9"/>
<path d="M437.2 264.2h3.5M437.2 255.7v17M440.8 255.7v17M439 262.5v3.3M430.5 262.5h17M430.5 265.8h17M439 271.4L446.2 258.4L431.8 258.4zM542.4 305.2h6.3M542.4 296.7v17M548.8 296.7v17M545.6 303.2v4.1M537.1 303.2h17M537.1 307.3h17M545.6 312.4L552.8 299.5L538.4 299.5zM639.5 351.6h5.9M639.5 343.1v17M645.5 343.1v17M642.5 348.8v5.7M634 348.8h17M634 354.5h17M642.5 358.8L649.7 345.8L635.3 345.8zM767.2 417.6h6.8M767.2 409.1v17M774 409.1v17M770.6 416.3v2.6M762.1 416.3h17M762.1 418.9h17M770.6 424.8L777.8 411.8L763.4 411.8zM636.5 350.7h3.2M636.5 342.2v17M639.6 342.2v17M638 347.9v5.5M629.5 347.9h17M629.5 353.5h17M638 357.9L645.2 345L630.8 345z" fill="none" stroke="#bc8f8f" stroke-width="1.9"/>
<path d="M167.2 137.1h6M167.2 128.6v17M173.2 128.6v17M170.2 135v4.3M161.7 135h17M161.7 139.2h17M170.2 144.3L177.4 131.3L163 131.3zM464.9 250.7h6.3M464.9 242.2v17M471.1 242.2v17M468 248.2v4.9M459.5 248.2h17M459.5 253.1h17M468 257.9L475.2 244.9L460.8 244.9zM489 260h5.4M489 251.5v17M494.4 251.5v17M491.7 258.2v3.5M483.2 258.2h17M483.2 261.8h17M491.7 267.2L498.9 254.2L484.5 254.2zM556.9 288.9h3.2M556.9 280.4v17M560.1 280.4v17M558.5 287.7v2.4M550 287.7h17M550 290.1h17M558.5 296.1L565.7 283.2L551.3 283.2z" fill="none" stroke="#0000ff" stroke-width="1.9"/>
<path d="M139 105.7h4.3M139 97.2v17M143.4 97.2v17M141.2 103.5v4.4M132.7 103.5h17M132.7 107.9h17M141.2 112.9L148.4 100L134 100zM444.6 221.9h3.8M444.6 213.4v17M448.4 213.4v17M446.5 220.7v2.4M438 220.7h17M438 223.1h17M446.5 229.1L453.7 216.2L439.3 216.2zM516.3 253.1h3.4M516.3 244.6v17M519.7 244.6v17M518 250.4v5.4M509.5 250.4h17M509.5 255.8h17M518 260.3L525.2 247.3L510.8 247.3zM551.6 261.5h4.6M551.6 253v17M556.2 253v17M553.9 260.1v2.8M545.4 260.1h17M545.4 262.9h17M553.9 268.7L561.1 255.7L546.7 255.7zM620.6 290.8h4M620.6 282.3v17M624.6 282.3v17M622.6 289.2v3.1M614.1 289.2h17M614.1 292.3h17M622.6 298L629.8 285L615.4 285z" fill="none" stroke="#008b00" stroke-width="1.9"/>
<path d="M140.5 93.7h4.9M140.5 85.2v17M145.5 85.2v17M143 91.7v4M134.5 91.7h17M134.5 95.7h17M143 100.9L150.2 88L135.8 88zM145.9 95.5h2.7M145.9 87v17M148.5 87v17M147.2 93.3v4.5M138.7 93.3h17M138.7 97.8h17M147.2 102.7L154.4 89.8L140 89.8zM150.9 98.8h6.6M150.9 90.3v17M157.5 90.3v17M154.2 95.8v5.9M145.7 95.8h17M145.7 101.7h17M154.2 106L161.4 93L147 93zM474.9 216.2h7M474.9 207.7v17M481.9 207.7v17M478.4 214.6v3.2M469.9 214.6h17M469.9 217.8h17M478.4 223.4L485.6 210.4L471.2 210.4zM609.6 267.2h4.9M609.6 258.7v17M614.4 258.7v17M612 265.7v2.8M603.5 265.7h17M603.5 268.6h17M612 274.4L619.2 261.4L604.8 261.4zM617.4 274.7h7.2M617.4 266.2v17M624.6 266.2v17M621 271.7v6M612.5 271.7h17M612.5 277.6h17M621 281.9L628.2 268.9L613.8 268.9zM728.7 325h2.7M728.7 316.5v17M731.3 316.5v17M730 323.8v2.4M721.5 323.8h17M721.5 326.2h17M730 332.2L737.2 319.2L722.8 319.2zM542.5 236.7h3.2M542.5 228.2v17M545.7 228.2v17M544.1 234.8v3.8M535.6 234.8h17M535.6 238.6h17M544.1 243.9L551.3 230.9L536.9 230.9z" fill="none" stroke="#ff0000" stroke-width="1.9"/>
<path d="M731.5 308.3h3M731.5 299.8v17M734.5 299.8v17M733 306.3v3.9M724.5 306.3h17M724.5 310.2h17M733 315.5L740.2 302.5L725.8 302.5zM462.6 192.5h4.3M462.6 184v17M466.9 184v17M464.7 189.5v5.9M456.2 189.5h17M456.2 195.4h17M464.7 199.7L471.9 186.7L457.5 186.7z" fill="none" stroke="#000000" stroke-width="1.9"/>
<path d="M146.1 167.6h6.3M146.1 159.1v17M152.3 159.1v17M149.2 164.8v5.7M140.7 164.8h17M140.7 170.4h17M156.4 167.6L143.4 160.4L143.4 174.8z" fill="none" stroke="#9400d3" stroke-width="1.9"/>
<path d="M156.5 153.3h7.1M156.5 144.8v17M163.5 144.8v17M160 151.6v3.4M151.5 151.6h17M151.5 155h17M167.2 153.3L154.2 146.1L154.2 160.5zM516 293h7.2M516 284.5v17M523.2 284.5v17M519.6 291.1v3.9M511.1 291.1h17M511.1 294.9h17M526.8 293L513.9 285.8L513.9 300.2z" fill="none" stroke="#bc8f8f" stroke-width="1.9"/>
<path d="M133.3 121h6.2M133.3 112.5v17M139.5 112.5v17M136.4 119v4M127.9 119h17M127.9 123h17M143.6 121L130.6 113.8L130.6 128.2z" fill="none" stroke="#0000ff" stroke-width="1.9"/>
<path d="M125.6 99.3h2.4M125.6 90.8v17M128 90.8v17M126.8 96.4v5.8M118.3 96.4h17M118.3 102.1h17M134 99.3L121 92.1L121 106.5z" fill="none" stroke="#008b00" stroke-width="1.9"/>
<path d="M124.1 86.1h7M124.1 77.6v17M131.1 77.6v17M127.6 83.9v4.4M119.1 83.9h17M119.1 88.3h17M134.8 86.1L121.8 78.9L121.8 93.3zM773.1 350.1h3M773.1 341.6v17M776.1 341.6v17M774.6 348.3v3.5M766.1 348.3h17M766.1 351.8h17M781.8 350.1L768.9 342.9L768.9 357.3z" fill="none" stroke="#ff0000" stroke-width="1.9"/>
<path d="M719.3 296.7h6.9M719.3 288.2v17M726.2 288.2v17M722.7 294.1v5.1M714.2 294.1h17M714.2 299.2h17M729.9 296.7L716.9 289.5L716.9 303.9z" fill="none" stroke="#000000" stroke-width="1.9"/>
<path d="M123.7 157.9h6.1M123.7 149.4v17M129.9 149.4v17M126.8 155v5.9M118.3 155h17M118.3 160.9h17M119.6 157.9h14.4M126.8 150.7v14.4M383.3 262.6h4.4M383.3 254.1v17M387.7 254.1v17M385.5 259.6v6.1M377 259.6h17M377 265.6h17M378.3 262.6h14.4M385.5 255.4v14.4M621.2 372.8h5.7M621.2 364.3v17M626.8 364.3v17M624 370.2v5.2M615.5 370.2h17M615.5 375.4h17M616.8 372.8h14.4M624 365.6v14.4" fill="none" stroke="#9400d3" stroke-width="1.9"/>
<path d="M133 140.8h6M133 132.3v17M139 132.3v17M136 138.7v4.1M127.5 138.7h17M127.5 142.8h17M128.8 140.8h14.4M136 133.6v14.4M260.3 193.7h3.5M260.3 185.2v17M263.7 185.2v17M262 191.3v4.8M253.5 191.3h17M253.5 196.1h17M254.8 193.7h14.4M262 186.5v14.4M746.2 407.8h5.2M746.2 399.3v17M751.3 399.3v17M748.7 406v3.7M740.2 406h17M740.2 409.7h17M741.5 407.8h14.4M748.7 400.6v14.4M538.4 303.7h4.6M538.4 295.2v17M543.1 295.2v17M540.7 302.1v3.1M532.2 302.1h17M532.2 305.2h17M533.5 303.7h14.4M540.7 296.5v14.4" fill="none" stroke="#bc8f8f" stroke-width="1.9"/>
<path d="M138.7 122.8h2.6M138.7 114.3v17M141.3 114.3v17M140 120.5v4.5M131.5 120.5h17M131.5 125.1h17M132.8 122.8h14.4M140 115.6v14.4M645.7 328.4h2.5M645.7 319.9v17M648.3 319.9v17M647 326.8v3.2M638.5 326.8h17M638.5 330h17M639.8 328.4h14.4M647 321.2v14.4" fill="none" stroke="#0000ff" stroke-width="1.9"/>
<path d="M133.5 102h2.6M133.5 93.5v17M136.1 93.5v17M134.8 99.4v5.3M126.3 99.4h17M126.3 104.6h17M127.6 102h14.4M134.8 94.8v14.4M145.1 109.3h5M145.1 100.8v17M150.1 100.8v17M147.6 108v2.6M139.1 108h17M139.1 110.6h17M140.4 109.3h14.4M147.6 102.1v14.4M568.3 266.6h4.9M568.3 258.1v17M573.3 258.1v17M570.8 264.4v4.3M562.3 264.4h17M562.3 268.7h17M563.6 266.6h14.4M570.8 259.4v14.4M629.8 294.5h2.9M629.8 286v17M632.8 286v17M631.3 291.3v6.3M622.8 291.3h17M622.8 297.6h17M624.1 294.5h14.4M631.3 287.3v14.4" fill="none" stroke="#008b00" stroke-width="1.9"/>
<path d="M766.4 343.5h5.2M766.4 335v17M771.6 335v17M769 340.4v6.2M760.5 340.4h17M760.5 346.6h17M761.8 343.5h14.4M769 336.3v14.4M768.2 345.4h6.1M768.2 336.9v17M774.3 336.9v17M771.2 342.4v5.9M762.7 342.4h17M762.7 348.4h17M764 345.4h14.4M771.2 338.2v14.4" fill="none" stroke="#ff0000" stroke-width="1.9"/>
<path d="M137.4 76.5h3.1M137.4 68v17M140.4 68v17M138.9 74.2v4.7M130.4 74.2h17M130.4 78.8h17M131.7 76.5h14.4M138.9 69.3v14.4M703.3 289h5.4M703.3 280.5v17M708.7 280.5v17M706 286.1v5.9M697.5 286.1h17M697.5 292h17M698.8 289h14.4M706 281.8v14.4M794.2 338.6h1.6M794.2 330.1v17M795.8 330.1v17M795 336.9v3.3M786.5 336.9h17M786.5 340.3h17M787.8 338.6h14.4M795 331.4v14.4M822.6 357.1h2M822.6 348.6v17M824.6 348.6v17M823.6 356v2.4M815.1 356h17M815.1 358.3h17M816.4 357.1h14.4M823.6 349.9v14.4" fill="none" stroke="#000000" stroke-width="1.9"/>
<path d="M318.8 239.3h6.4M318.8 230.8v17M325.2 230.8v17M322 237.7v3.2M313.5 237.7h17M313.5 240.9h17M314.8 232.1l14.4 14.4M314.8 246.5l14.4 -14.4M476.2 306.7h4.5M476.2 298.2v17M480.8 298.2v17M478.5 304.3v4.9M470 304.3h17M470 309.2h17M471.3 299.5l14.4 14.4M471.3 313.9l14.4 -14.4M718.8 420.6h3.7M718.8 412.1v17M722.4 412.1v17M720.6 419.2v2.9M712.1 419.2h17M712.1 422.1h17M713.4 413.4l14.4 14.4M713.4 427.8l14.4 -14.4M803.4 478.1h3.2M803.4 469.6v17M806.6 469.6v17M805 476.8v2.6M796.5 476.8h17M796.5 479.5h17M797.8 470.9l14.4 14.4M797.8 485.3l14.4 -14.4M818 489.2h2.4M818 480.7v17M820.4 480.7v17M819.2 488v2.4M810.7 488h17M810.7 490.3h17M812 482l14.4 14.4M812 496.4l14.4 -14.4M827.7 497.4h2.6M827.7 488.9v17M830.3 488.9v17M829 496.1v2.6M820.5 496.1h17M820.5 498.7h17M821.8 490.2l14.4 14.4M821.8 504.6l14.4 -14.4" fill="none" stroke="#9400d3" stroke-width="1.9"/>
<path d="M118.5 134.5h6.9M118.5 126v17M125.5 126v17M122 132.2v4.6M113.5 132.2h17M113.5 136.8h17M114.8 127.3l14.4 14.4M114.8 141.7l14.4 -14.4M124.7 136.4h3M124.7 127.9v17M127.7 127.9v17M126.2 134.3v4.3M117.7 134.3h17M117.7 138.6h17M119 129.2l14.4 14.4M119 143.6l14.4 -14.4M396.9 247.3h3.5M396.9 238.8v17M400.3 238.8v17M398.6 246v2.5M390.1 246h17M390.1 248.5h17M391.4 240.1l14.4 14.4M391.4 254.5l14.4 -14.4M511 290.8h4M511 282.3v17M515 282.3v17M513 289.3v3.1M504.5 289.3h17M504.5 292.4h17M505.8 283.6l14.4 14.4M505.8 298l14.4 -14.4M518 287.2h6M518 278.7v17M524 278.7v17M521 285.9v2.5M512.5 285.9h17M512.5 288.4h17M513.8 280l14.4 14.4M513.8 294.4l14.4 -14.4M785.5 434.8h4.2M785.5 426.3v17M789.6 426.3v17M787.6 431.9v5.9M779.1 431.9h17M779.1 437.7h17M780.4 427.6l14.4 14.4M780.4 442l14.4 -14.4" fill="none" stroke="#bc8f8f" stroke-width="1.9"/>
<path d="M222.2 157.4h4M222.2 148.9v17M226.2 148.9v17M224.2 155.8v3.4M215.7 155.8h17M215.7 159.1h17M217 150.2l14.4 14.4M217 164.6l14.4 -14.4M418.1 233.7h3.3M418.1 225.2v17M421.4 225.2v17M419.8 231.2v5M411.3 231.2h17M411.3 236.2h17M412.6 226.5l14.4 14.4M412.6 240.9l14.4 -14.4" fill="none" stroke="#0000ff" stroke-width="1.9"/>
<path d="M131.2 101.3h4M131.2 92.8v17M135.2 92.8v17M133.2 98.2v6.3M124.7 98.2h17M124.7 104.5h17M126 94.1l14.4 14.4M126 108.5l14.4 -14.4M523.7 254.9h3.5M523.7 246.4v17M527.3 246.4v17M525.5 252.5v4.8M517 252.5h17M517 257.3h17M518.3 247.7l14.4 14.4M518.3 262.1l14.4 -14.4M775.6 375.5h5.6M775.6 367v17M781.2 367v17M778.4 373.7v3.6M769.9 373.7h17M769.9 377.3h17M771.2 368.3l14.4 14.4M771.2 382.7l14.4 -14.4M827.2 404.9h1.7M827.2 396.4v17M828.8 396.4v17M828 402.8v4.2M819.5 402.8h17M819.5 407h17M820.8 397.7l14.4 14.4M820.8 412.1l14.4 -14.4M850.9 426.7h1.3M850.9 418.2v17M852.1 418.2v17M851.5 424.6v4.2M843 424.6h17M843 428.8h17M844.3 419.5l14.4 14.4M844.3 433.9l14.4 -14.4" fill="none" stroke="#008b00" stroke-width="1.9"/>
<path d="M139.5 92.7h4.3M139.5 84.2v17M143.7 84.2v17M141.6 90.7v4.1M133.1 90.7h17M133.1 94.8h17M134.4 85.5l14.4 14.4M134.4 99.9l14.4 -14.4M469 213.3h4M469 204.8v17M473 204.8v17M471 210.4v5.8M462.5 210.4h17M462.5 216.2h17M463.8 206.1l14.4 14.4M463.8 220.5l14.4 -14.4M797.5 361.7h1.9M797.5 353.2v17M799.5 353.2v17M798.5 359.9v3.4M790 359.9h17M790 363.4h17M791.3 354.5l14.4 14.4M791.3 368.9l14.4 -14.4M849.6 400.3h1.9M849.6 391.8v17M851.4 391.8v17M850.5 398.7v3.3M842 398.7h17M842 402h17M843.3 393.1l14.4 14.4M843.3 407.5l14.4 -14.4" fill="none" stroke="#ff0000" stroke-width="1.9"/>
<path d="M120.3 70.4h6M120.3 61.9v17M126.3 61.9v17M123.3 69v2.7M114.8 69h17M114.8 71.7h17M116.1 63.2l14.4 14.4M116.1 77.6l14.4 -14.4M128.3 72.2h3M128.3 63.7v17M131.3 63.7v17M129.8 69.5v5.4M121.3 69.5h17M121.3 74.9h17M122.6 65l14.4 14.4M122.6 79.4l14.4 -14.4M135.6 75.4h4.1M135.6 66.9v17M139.6 66.9v17M137.6 73.6v3.6M129.1 73.6h17M129.1 77.2h17M130.4 68.2l14.4 14.4M130.4 82.6l14.4 -14.4M155.5 83.5h3.2M155.5 75v17M158.7 75v17M157.1 80.8v5.5M148.6 80.8h17M148.6 86.3h17M149.9 76.3l14.4 14.4M149.9 90.7l14.4 -14.4" fill="none" stroke="#000000" stroke-width="1.9"/>
<path d="M138.7 164.8h4.9M138.7 156.3v17M143.7 156.3v17M141.2 163.3v3M132.7 163.3h17M132.7 166.3h17M134 164.8h14.4M141.2 157.6v14.4M134 157.6l14.4 14.4M134 172l14.4 -14.4M153.5 169.5h4.2M153.5 161v17M157.7 161v17M155.6 167.8v3.3M147.1 167.8h17M147.1 171.1h17M148.4 169.5h14.4M155.6 162.3v14.4M148.4 162.3l14.4 14.4M148.4 176.7l14.4 -14.4M649.9 385h6.2M649.9 376.5v17M656.1 376.5v17M653 381.9v6.3M644.5 381.9h17M644.5 388.1h17M645.8 385h14.4M653 377.8v14.4M645.8 377.8l14.4 14.4M645.8 392.2l14.4 -14.4M779.7 458.9h4M779.7 450.4v17M783.8 450.4v17M781.7 456.1v5.7M773.2 456.1h17M773.2 461.8h17M774.5 458.9h14.4M781.7 451.7v14.4M774.5 451.7l14.4 14.4M774.5 466.1l14.4 -14.4M808.1 481.5h3.5M808.1 473v17M811.7 473v17M809.9 479.4v4.1M801.4 479.4h17M801.4 483.5h17M802.7 481.5h14.4M809.9 474.3v14.4M802.7 474.3l14.4 14.4M802.7 488.7l14.4 -14.4M854 521.7h2.5M854 513.2v17M856.6 513.2v17M855.3 520.5v2.5M846.8 520.5h17M846.8 523h17M848.1 521.7h14.4M855.3 514.5v14.4M848.1 514.5l14.4 14.4M848.1 528.9l14.4 -14.4" fill="none" stroke="#9400d3" stroke-width="1.9"/>
<path d="M139.8 144.6h6.5M139.8 136.1v17M146.2 136.1v17M143 141.7v5.9M134.5 141.7h17M134.5 147.6h17M135.8 144.6h14.4M143 137.4v14.4M135.8 137.4l14.4 14.4M135.8 151.8l14.4 -14.4M166.1 155.8h5.9M166.1 147.3v17M171.9 147.3v17M169 153.3v5M160.5 153.3h17M160.5 158.3h17M161.8 155.8h14.4M169 148.6v14.4M161.8 148.6l14.4 14.4M161.8 163l14.4 -14.4M461.9 270.9h3.1M461.9 262.4v17M465.1 262.4v17M463.5 268.9v4M455 268.9h17M455 272.9h17M456.3 270.9h14.4M463.5 263.7v14.4M456.3 263.7l14.4 14.4M456.3 278.1l14.4 -14.4M538.9 304.6h3.4M538.9 296.1v17M542.3 296.1v17M540.6 302.7v3.8M532.1 302.7h17M532.1 306.5h17M533.4 304.6h14.4M540.6 297.4v14.4M533.4 297.4l14.4 14.4M533.4 311.8l14.4 -14.4M623 342.6h7M623 334.1v17M630 334.1v17M626.5 340.7v3.9M618 340.7h17M618 344.6h17M619.3 342.6h14.4M626.5 335.4v14.4M619.3 335.4l14.4 14.4M619.3 349.8l14.4 -14.4M692.2 378.3h3.7M692.2 369.8v17M695.8 369.8v17M694 376.9v2.7M685.5 376.9h17M685.5 379.7h17M686.8 378.3h14.4M694 371.1v14.4M686.8 371.1l14.4 14.4M686.8 385.5l14.4 -14.4M488.5 285.2h3.9M488.5 276.7v17M492.4 276.7v17M490.5 282.9v4.7M482 282.9h17M482 287.6h17M483.3 285.2h14.4M490.5 278v14.4M483.3 278l14.4 14.4M483.3 292.4l14.4 -14.4M606.8 335.1h7.1M606.8 326.6v17M613.9 326.6v17M610.3 333v4.3M601.8 333h17M601.8 337.3h17M603.1 335.1h14.4M610.3 327.9v14.4M603.1 327.9l14.4 14.4M603.1 342.3l14.4 -14.4" fill="none" stroke="#bc8f8f" stroke-width="1.9"/>
<path d="M260.2 171.5h7.1M260.2 163v17M267.2 163v17M263.7 169.3v4.3M255.2 169.3h17M255.2 173.6h17M256.5 171.5h14.4M263.7 164.3v14.4M256.5 164.3l14.4 14.4M256.5 178.7l14.4 -14.4M460.1 245.3h2.9M460.1 236.8v17M463.1 236.8v17M461.6 243.6v3.2M453.1 243.6h17M453.1 246.9h17M454.4 245.3h14.4M461.6 238.1v14.4M454.4 238.1l14.4 14.4M454.4 252.5l14.4 -14.4M733.5 377.3h5.9M733.5 368.8v17M739.4 368.8v17M736.5 375.9v2.8M728 375.9h17M728 378.7h17M729.3 377.3h14.4M736.5 370.1v14.4M729.3 370.1l14.4 14.4M729.3 384.5l14.4 -14.4M743.5 384.4h2.9M743.5 375.9v17M746.3 375.9v17M744.9 382.4v3.9M736.4 382.4h17M736.4 386.4h17M737.7 384.4h14.4M744.9 377.2v14.4M737.7 377.2l14.4 14.4M737.7 391.6l14.4 -14.4M851.8 455.1h2.4M851.8 446.6v17M854.2 446.6v17M853 453.4v3.5M844.5 453.4h17M844.5 456.9h17M845.8 455.1h14.4M853 447.9v14.4M845.8 447.9l14.4 14.4M845.8 462.3l14.4 -14.4" fill="none" stroke="#0000ff" stroke-width="1.9"/>
<path d="M660 312.9h6.1M660 304.4v17M666 304.4v17M663 310.1v5.7M654.5 310.1h17M654.5 315.7h17M655.8 312.9h14.4M663 305.7v14.4M655.8 305.7l14.4 14.4M655.8 320.1l14.4 -14.4M697.2 333.8h6.8M697.2 325.3v17M704 325.3v17M700.6 332.5v2.7M692.1 332.5h17M692.1 335.2h17M693.4 333.8h14.4M700.6 326.6v14.4M693.4 326.6l14.4 14.4M693.4 341l14.4 -14.4M737.3 354.7h3.5M737.3 346.2v17M740.7 346.2v17M739 353.4v2.6M730.5 353.4h17M730.5 356h17M731.8 354.7h14.4M739 347.5v14.4M731.8 347.5l14.4 14.4M731.8 361.9l14.4 -14.4" fill="none" stroke="#008b00" stroke-width="1.9"/>
<path d="M145.2 94.6h6.9M145.2 86.1v17M152 86.1v17M148.6 92.9v3.4M140.1 92.9h17M140.1 96.3h17M141.4 94.6h14.4M148.6 87.4v14.4M141.4 87.4l14.4 14.4M141.4 101.8l14.4 -14.4M574 249.3h4.7M574 240.8v17M578.8 240.8v17M576.4 247.3v4.2M567.9 247.3h17M567.9 251.4h17M569.2 249.3h14.4M576.4 242.1v14.4M569.2 242.1l14.4 14.4M569.2 256.5l14.4 -14.4" fill="none" stroke="#ff0000" stroke-width="1.9"/>
<path d="M129.7 73.9h5.5M129.7 65.4v17M135.1 65.4v17M132.4 71.6v4.6M123.9 71.6h17M123.9 76.1h17M125.2 73.9h14.4M132.4 66.7v14.4M125.2 66.7l14.4 14.4M125.2 81.1l14.4 -14.4M145 80.3h6M145 71.8v17M151 71.8v17M148 79v2.7M139.5 79h17M139.5 81.7h17M140.8 80.3h14.4M148 73.1v14.4M140.8 73.1l14.4 14.4M140.8 87.5l14.4 -14.4M403.6 171.8h2.8M403.6 163.3v17M406.4 163.3v17M405 170v3.7M396.5 170h17M396.5 173.6h17M397.8 171.8h14.4M405 164.6v14.4M397.8 164.6l14.4 14.4M397.8 179l14.4 -14.4M471.7 199.2h5.4M471.7 190.7v17M477.1 190.7v17M474.4 196.4v5.6M465.9 196.4h17M465.9 202h17M467.2 199.2h14.4M474.4 192v14.4M467.2 192l14.4 14.4M467.2 206.4l14.4 -14.4M513.6 210.7h4.7M513.6 202.2v17M518.4 202.2v17M516 208.2v5M507.5 208.2h17M507.5 213.2h17M508.8 210.7h14.4M516 203.5v14.4M508.8 203.5l14.4 14.4M508.8 217.9l14.4 -14.4M649.3 258.4h2.6M649.3 249.9v17M651.8 249.9v17M650.6 256.1v4.6M642.1 256.1h17M642.1 260.7h17M643.4 258.4h14.4M650.6 251.2v14.4M643.4 251.2l14.4 14.4M643.4 265.6l14.4 -14.4" fill="none" stroke="#000000" stroke-width="1.9"/>
<path d="M123 156.5L143.2 164L163.4 171.6L183.6 179.2L203.8 187L224 194.8L244.2 202.7L264.4 210.7L284.6 218.8L304.8 226.9L325 235.1L345.2 243.5L365.4 251.9L385.6 260.3L405.8 268.9L426 277.5L446.2 286.3L466.4 295.1L486.6 304L506.8 312.9L527.1 322L547.3 331.1L567.5 340.4L587.7 349.7L607.9 359L628.1 368.5L648.3 378L668.5 387.7L688.7 397.4L708.9 407.2L729.1 417L749.3 427L769.5 437L789.7 447.2L809.9 457.4L830.1 467.7L850.3 478L870.5 488.5L890.7 499L910.9 509.6" fill="none" stroke="#9400d3" stroke-width="3.7"/>
<path d="M123 134.6L143.2 142.4L163.4 150.2L183.6 158.1L203.8 166L224 174L244.2 182.1L264.4 190.1L284.6 198.3L304.8 206.4L325 214.7L345.2 222.9L365.4 231.2L385.6 239.6L405.8 248L426 256.5L446.2 265L466.4 273.6L486.6 282.2L506.8 290.8L527.1 299.5L547.3 308.3L567.5 317.1L587.7 325.9L607.9 334.8L628.1 343.7L648.3 352.7L668.5 361.8L688.7 370.9L708.9 380L729.1 389.2L749.3 398.4L769.5 407.7L789.7 417L809.9 426.4L830.1 435.8L850.3 445.3L870.5 454.8L890.7 464.4L910.9 474" fill="none" stroke="#bc8f8f" stroke-width="3.7"/>
<path d="M123 114.4L143.2 121.8L163.4 129.2L183.6 136.7L203.8 144.3L224 152L244.2 159.7L264.4 167.5L284.6 175.4L304.8 183.4L325 191.4L345.2 199.5L365.4 207.6L385.6 215.9L405.8 224.2L426 232.6L446.2 241L466.4 249.5L486.6 258.1L506.8 266.8L527.1 275.5L547.3 284.3L567.5 293.2L587.7 302.2L607.9 311.2L628.1 320.3L648.3 329.5L668.5 338.7L688.7 348L708.9 357.4L729.1 366.9L749.3 376.4L769.5 386L789.7 395.7L809.9 405.5L830.1 415.3L850.3 425.2L870.5 435.1L890.7 445.2L910.9 455.3" fill="none" stroke="#0000ff" stroke-width="3.7"/>
<path d="M123 98L143.2 105.3L163.4 112.6L183.6 120L203.8 127.4L224 134.9L244.2 142.5L264.4 150.1L284.6 157.8L304.8 165.5L325 173.3L345.2 181.1L365.4 189L385.6 197L405.8 205L426 213.1L446.2 221.2L466.4 229.4L486.6 237.6L506.8 245.9L527.1 254.3L547.3 262.7L567.5 271.2L587.7 279.7L607.9 288.3L628.1 297L648.3 305.7L668.5 314.5L688.7 323.3L708.9 332.2L729.1 341.1L749.3 350.1L769.5 359.2L789.7 368.3L809.9 377.5L830.1 386.7L850.3 396L870.5 405.3L890.7 414.7L910.9 424.2" fill="none" stroke="#008b00" stroke-width="3.7"/>
<path d="M123 87.1L143.2 93.6L163.4 100.2L183.6 106.9L203.8 113.7L224 120.5L244.2 127.4L264.4 134.4L284.6 141.5L304.8 148.7L325 155.9L345.2 163.2L365.4 170.6L385.6 178.1L405.8 185.7L426 193.3L446.2 201L466.4 208.8L486.6 216.7L506.8 224.6L527.1 232.7L547.3 240.8L567.5 249L587.7 257.3L607.9 265.6L628.1 274L648.3 282.6L668.5 291.1L688.7 299.8L708.9 308.6L729.1 317.4L749.3 326.3L769.5 335.3L789.7 344.4L809.9 353.5L830.1 362.7L850.3 372.1L870.5 381.4L890.7 390.9L910.9 400.5" fill="none" stroke="#ff0000" stroke-width="3.7"/>
<path d="M123 70.2L143.2 77L163.4 83.8L183.6 90.7L203.8 97.6L224 104.6L244.2 111.7L264.4 118.8L284.6 126L304.8 133.2L325 140.5L345.2 147.9L365.4 155.3L385.6 162.8L405.8 170.3L426 177.9L446.2 185.5L466.4 193.2L486.6 201L506.8 208.8L527.1 216.7L547.3 224.7L567.5 232.7L587.7 240.7L607.9 248.9L628.1 257L648.3 265.3L668.5 273.6L688.7 281.9L708.9 290.4L729.1 298.8L749.3 307.4L769.5 316L789.7 324.6L809.9 333.3L830.1 342.1L850.3 350.9L870.5 359.8L890.7 368.8L910.9 377.8" fill="none" stroke="#000000" stroke-width="3.7"/>
<path d="M943.5 30.5V651" stroke="#000" stroke-width="4.5" stroke-dasharray="20 11.9" fill="none"/>
<path d="M123 30.5H1009.6V651H123zM246.2 30.5v9.2M246.2 651v-9.2M369.3 30.5v17.5M369.3 651v-17.5M492.5 30.5v9.2M492.5 651v-9.2M615.6 30.5v17.5M615.6 651v-17.5M738.8 30.5v9.2M738.8 651v-9.2M861.9 30.5v17.5M861.9 651v-17.5M985.1 30.5v9.2M985.1 651v-9.2M123 93.1h9.2M1009.6 93.1h-9.2M123 155.7h17.5M1009.6 155.7h-17.5M123 218.2h9.2M1009.6 218.2h-9.2M123 280.8h17.5M1009.6 280.8h-17.5M123 343.4h9.2M1009.6 343.4h-9.2M123 406h17.5M1009.6 406h-17.5M123 468.5h9.2M1009.6 468.5h-9.2M123 531.1h17.5M1009.6 531.1h-17.5M123 593.7h9.2M1009.6 593.7h-9.2" fill="none" stroke="#000" stroke-width="2"/>
<g font-family="'Liberation Serif', 'Times New Roman', serif" fill="#000">
<text x="114.7" y="42.7" font-size="36.5" letter-spacing="-0.9" text-anchor="end">0</text>
<text x="114.7" y="167.8" font-size="36.5" letter-spacing="-0.9" text-anchor="end">-0.5</text>
<text x="114.7" y="293" font-size="36.5" letter-spacing="-0.9" text-anchor="end">-1</text>
<text x="114.7" y="418.2" font-size="36.5" letter-spacing="-0.9" text-anchor="end">-1.5</text>
<text x="114.7" y="543.3" font-size="36.5" letter-spacing="-0.9" text-anchor="end">-2</text>
<text x="123.4" y="684" font-size="36.5" letter-spacing="-0.9" text-anchor="middle">0</text>
<text x="369.7" y="684" font-size="36.5" letter-spacing="-0.9" text-anchor="middle">0.1</text>
<text x="616" y="684" font-size="36.5" letter-spacing="-0.9" text-anchor="middle">0.2</text>
<text x="862.3" y="684" font-size="36.5" letter-spacing="-0.9" text-anchor="middle">0.3</text>
<text x="549.4" y="726" font-size="50">I</text>
<text x="566" y="745.5" font-size="35">2</text>
<text transform="translate(52.4 340.5) rotate(-90)" font-size="50" text-anchor="middle">E / NkT</text>
</g>
</svg>
</body></html>
